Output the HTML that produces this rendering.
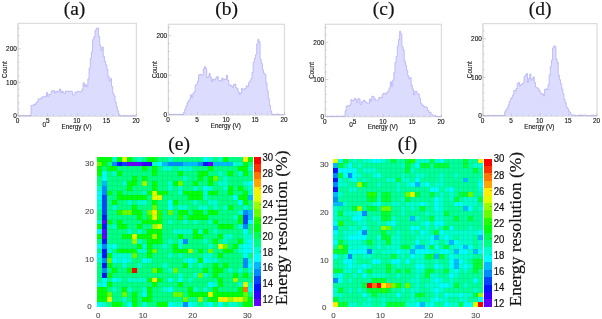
<!DOCTYPE html>
<html lang="en">
<head>
<meta charset="utf-8">
<title>Energy spectra and energy resolution maps</title>
<style>
html,body{margin:0;padding:0;background:#fff;}
body{width:602px;height:319px;overflow:hidden;}
svg{display:block;}
text{font-family:"Liberation Sans",Arial,Helvetica,sans-serif;}
.tk text{font-size:6.45px;fill:#111;stroke:#111;stroke-width:0.12px;}
.tk text.at{font-size:6.3px;}
.ttl{font-family:"Liberation Serif","Times New Roman",serif;font-size:19.5px;fill:#111;stroke:#111;stroke-width:0.18px;}
.er{font-family:"Liberation Serif","Times New Roman",serif;font-size:17.45px;fill:#111;stroke:#111;stroke-width:0.18px;}
.cb text{font-size:10.6px;fill:#111;stroke:#111;stroke-width:0.22px;}
.ax text{font-size:7.9px;fill:#505050;stroke:#505050;stroke-width:0.12px;}
</style>
</head>
<body>
<svg width="602" height="319" viewBox="0 0 602 319">
<defs><filter id="soft" x="-2%" y="-2%" width="104%" height="104%"><feGaussianBlur stdDeviation="0.55"/></filter></defs>
<rect width="602" height="319" fill="#fff"/>
<rect x="18" y="23.4" width="118.4" height="92.6" fill="none" stroke="#dddddd" stroke-width="1.25"/>
<path d="M18 23.4V116H136.4" fill="none" stroke="#cacaca" stroke-width="0.5"/>
<path d="M18 115.7H30.7" stroke="#a9a4f6" stroke-width="0.7" fill="none"/>
<path d="M29.84 116V115.85H31.02V105.45H32.21V105.5H33.39V104.29H34.58V104.94H35.76V102.77H36.94V101.6H38.13V98.85H39.31V99.09H40.5V98.53H41.68V97.03H42.86V96.67H44.05V96.69H45.23V96.15H46.42V92.62H47.6V96.42H48.78V94.21H49.97V94.44H51.15V91.28H52.34V90.58H53.52V90.61H54.7V92.82H55.89V91.24H57.07V91.88H58.26V91.13H59.44V88.99H60.62V92.57H61.81V91.02H62.99V92.8H64.18V93.36H65.36V90.98H66.54V91.32H67.73V91.07H68.91V91.5H70.1V91H71.28V91.49H72.46V94.9H73.65V94.93H74.83V92.37H76.02V92.15H77.2V91.25H78.38V91.56H79.57V91.55H80.75V91.56H81.94V89.25H83.12V82.78H84.3V86.42H85.49V84.56H86.67V86.6H87.86V78.99H89.04V68.3H90.22V58.6H91.41V51.9H92.59V39.66H93.78V37H94.96V30.78H96.14V28.13H97.33V27.99H98.51V36.51H99.7V45.35H100.88V50.33H102.06V46.99H103.25V56.33H104.43V61.32H105.62V64.84H106.8V69.25H107.98V76.34H109.17V80.84H110.35V78.41H111.54V86.42H112.72V93.12H113.9V95.86H115.09V102.09H116.27V106.83H117.46V110.85H118.64V114.23H119.82V115.85H121.01V115.85H122.19V115.85H123.38V115.85H124.56V115.85H125.74V115.85H126.93V115.85H128.11V115.85H129.3V115.85H130.48V115.85H131.66V115.85H132.85V115.1H134.03V115.85H135.22V115.85H136.4V116" fill="#dcdcff" stroke="#a9a4f6" stroke-width="0.65" stroke-linejoin="miter"/>
<path d="M18 116v-2.6M23.92 116v-1.3M29.84 116v-1.3M35.76 116v-1.3M41.68 116v-1.3M47.6 116v-2.6M53.52 116v-1.3M59.44 116v-1.3M65.36 116v-1.3M71.28 116v-1.3M77.2 116v-2.6M83.12 116v-1.3M89.04 116v-1.3M94.96 116v-1.3M100.88 116v-1.3M106.8 116v-2.6M112.72 116v-1.3M118.64 116v-1.3M124.56 116v-1.3M130.48 116v-1.3M136.4 116v-2.6M18 116h3M18 109.28h1.5M18 102.56h1.5M18 95.84h1.5M18 89.12h1.5M18 82.4h3M18 75.68h1.5M18 68.96h1.5M18 62.24h1.5M18 55.52h1.5M18 48.8h3M18 42.08h1.5M18 35.36h1.5M18 28.64h1.5" stroke="#b8b8b8" stroke-width="0.6" fill="none"/>
<g class="tk">
<text x="16.8" y="118.4" text-anchor="end">0</text>
<text x="16.8" y="84.8" text-anchor="end">100</text>
<text x="16.8" y="51.1" text-anchor="end">200</text>
<text x="17.6" y="123.2" text-anchor="middle">0</text>
<text x="47.9" y="123" text-anchor="middle">5</text>
<text x="76.8" y="123.2" text-anchor="middle">10</text>
<text x="106.4" y="123.2" text-anchor="middle">15</text>
<text x="136" y="123.2" text-anchor="middle">20</text>
<text x="44.2" y="126.5" text-anchor="middle">0</text>
<text class="at" x="76.6" y="128.8" text-anchor="middle">Energy (V)</text>
<text class="at" transform="translate(6.7 69.7) rotate(-90)" text-anchor="middle">Count</text>
</g>
<text class="ttl" x="74.5" y="14.6" text-anchor="middle">(a)</text>
<rect x="168.4" y="24.3" width="116.1" height="90.5" fill="none" stroke="#dddddd" stroke-width="1.25"/>
<path d="M168.4 24.3V114.8H284.5" fill="none" stroke="#cacaca" stroke-width="0.5"/>
<path d="M168.4 114.5H183.3" stroke="#a9a4f6" stroke-width="0.7" fill="none"/>
<path d="M182.33 114.8V114.65H183.49V112.57H184.65V109.19H185.81V106.32H186.98V102.75H188.14V101.12H189.3V99.24H190.46V94.75H191.62V97.26H192.78V93.42H193.94V92.01H195.1V85.16H196.26V84.27H197.43V81.13H198.59V74.9H199.75V74.33H200.91V74.94H202.07V75.08H203.23V68.94H204.39V66.73H205.55V68.37H206.71V77.56H207.87V76.73H209.04V73.42H210.2V77.14H211.36V81.5H212.52V79.03H213.68V80.15H214.84V79.28H216V77.01H217.16V76.71H218.32V80.32H219.48V80.47H220.65V81.31H221.81V77.95H222.97V79.85H224.13V79.11H225.29V79.38H226.45V75.28H227.61V80.19H228.77V84.78H229.93V85.23H231.09V86.18H232.25V87.29H233.42V84.6H234.58V84.1H235.74V87.73H236.9V88.6H238.06V91.94H239.22V94.07H240.38V92.91H241.54V88.39H242.7V89.39H243.87V89.08H245.03V88.47H246.19V85.76H247.35V86.59H248.51V82.83H249.67V80.99H250.83V78.52H251.99V72.38H253.15V62.45H254.31V58.41H255.48V54.59H256.64V44.1H257.8V39.33H258.96V41.87H260.12V59.44H261.28V63.67H262.44V69.86H263.6V73.32H264.76V74.39H265.92V82.89H267.08V90.82H268.25V98.8H269.41V105.57H270.57V111.08H271.73V114.65H272.89V114.65H274.05V114.65H275.21V114.65H276.37V113.9H277.53V114.65H278.69V114.65H279.86V114.65H281.02V114.65H282.18V114.65H283.34V114.65H284.5V114.8" fill="#dcdcff" stroke="#a9a4f6" stroke-width="0.65" stroke-linejoin="miter"/>
<path d="M168.4 114.8v-2.6M174.21 114.8v-1.3M180.01 114.8v-1.3M185.81 114.8v-1.3M191.62 114.8v-1.3M197.43 114.8v-2.6M203.23 114.8v-1.3M209.03 114.8v-1.3M214.84 114.8v-1.3M220.65 114.8v-1.3M226.45 114.8v-2.6M232.25 114.8v-1.3M238.06 114.8v-1.3M243.87 114.8v-1.3M249.67 114.8v-1.3M255.47 114.8v-2.6M261.28 114.8v-1.3M267.09 114.8v-1.3M272.89 114.8v-1.3M278.69 114.8v-1.3M284.5 114.8v-2.6M168.4 114.8h3M168.4 106.88h1.5M168.4 98.96h1.5M168.4 91.04h1.5M168.4 83.12h1.5M168.4 75.2h3M168.4 67.28h1.5M168.4 59.36h1.5M168.4 51.44h1.5M168.4 43.52h1.5M168.4 35.6h3M168.4 27.68h1.5" stroke="#b8b8b8" stroke-width="0.6" fill="none"/>
<g class="tk">
<text x="167.2" y="117.2" text-anchor="end">0</text>
<text x="167.2" y="77.6" text-anchor="end">100</text>
<text x="167.2" y="37.9" text-anchor="end">200</text>
<text x="168" y="122" text-anchor="middle">0</text>
<text x="197.03" y="122" text-anchor="middle">5</text>
<text x="226.05" y="122" text-anchor="middle">10</text>
<text x="255.07" y="122" text-anchor="middle">15</text>
<text x="284.1" y="122" text-anchor="middle">20</text>
<text class="at" x="225.85" y="127.6" text-anchor="middle">Energy (V)</text>
<text class="at" transform="translate(157.1 69.55) rotate(-90)" text-anchor="middle">Count</text>
</g>
<text class="ttl" x="226.7" y="14.6" text-anchor="middle">(b)</text>
<rect x="325.3" y="24.3" width="116.1" height="92.3" fill="none" stroke="#dddddd" stroke-width="1.25"/>
<path d="M325.3 24.3V116.6H441.4" fill="none" stroke="#cacaca" stroke-width="0.5"/>
<path d="M325.3 116.3H344.3" stroke="#a9a4f6" stroke-width="0.7" fill="none"/>
<path d="M343.88 116.6V116.45H345.04V110.78H346.2V106.19H347.36V105.78H348.52V106.17H349.68V105.04H350.84V99.68H352V100.52H353.16V100.08H354.32V98.24H355.49V99.55H356.65V102.4H357.81V98.67H358.97V98.99H360.13V104.46H361.29V102.15H362.45V101.06H363.61V100.34H364.77V101.35H365.94V102.71H367.1V103.07H368.26V103.01H369.42V98.93H370.58V101.05H371.74V96.27H372.9V96.4H374.06V98.55H375.22V100.46H376.38V100.33H377.55V99.97H378.71V97.57H379.87V97.23H381.03V97.91H382.19V94.28H383.35V93.27H384.51V93.25H385.67V94.09H386.83V91.96H387.99V90.98H389.15V87.86H390.32V81.65H391.48V86.3H392.64V80.13H393.8V72.72H394.96V62.44H396.12V56.54H397.28V46.21H398.44V39.54H399.6V31.39H400.76V34.03H401.93V46.46H403.09V49.98H404.25V61.15H405.41V65.47H406.57V70.3H407.73V75.78H408.89V78.66H410.05V77.72H411.21V85.41H412.38V88.99H413.54V94.72H414.7V91.31H415.86V91.43H417.02V93.77H418.18V93.99H419.34V98.38H420.5V103H421.66V104.84H422.82V105.67H423.98V106.7H425.15V106.75H426.31V107.59H427.47V110.29H428.63V112.39H429.79V112.09H430.95V114.24H432.11V115.13H433.27V115.25H434.43V115.7H435.59V116.45H436.76V116.45H437.92V116.45H439.08V116.45H440.24V116.45H441.4V116.6" fill="#dcdcff" stroke="#a9a4f6" stroke-width="0.65" stroke-linejoin="miter"/>
<path d="M325.3 116.6v-2.6M331.11 116.6v-1.3M336.91 116.6v-1.3M342.72 116.6v-1.3M348.52 116.6v-1.3M354.32 116.6v-2.6M360.13 116.6v-1.3M365.94 116.6v-1.3M371.74 116.6v-1.3M377.55 116.6v-1.3M383.35 116.6v-2.6M389.15 116.6v-1.3M394.96 116.6v-1.3M400.76 116.6v-1.3M406.57 116.6v-1.3M412.38 116.6v-2.6M418.18 116.6v-1.3M423.98 116.6v-1.3M429.79 116.6v-1.3M435.59 116.6v-1.3M441.4 116.6v-2.6M325.3 116.6h3M325.3 109.18h1.5M325.3 101.76h1.5M325.3 94.34h1.5M325.3 86.92h1.5M325.3 79.5h3M325.3 72.08h1.5M325.3 64.66h1.5M325.3 57.24h1.5M325.3 49.82h1.5M325.3 42.4h3M325.3 34.98h1.5M325.3 27.56h1.5" stroke="#b8b8b8" stroke-width="0.6" fill="none"/>
<g class="tk">
<text x="324.1" y="119" text-anchor="end">0</text>
<text x="324.1" y="81.9" text-anchor="end">100</text>
<text x="324.1" y="44.8" text-anchor="end">200</text>
<text x="324.9" y="123.8" text-anchor="middle">0</text>
<text x="354.62" y="123.6" text-anchor="middle">5</text>
<text x="382.95" y="123.8" text-anchor="middle">10</text>
<text x="411.98" y="123.8" text-anchor="middle">15</text>
<text x="441" y="123.8" text-anchor="middle">20</text>
<text x="350.93" y="127.1" text-anchor="middle">0</text>
<text class="at" x="382.75" y="129.4" text-anchor="middle">Energy (V)</text>
<text class="at" transform="translate(314 70.45) rotate(-90)" text-anchor="middle">Count</text>
</g>
<text class="ttl" x="383.6" y="14.6" text-anchor="middle">(c)</text>
<rect x="483" y="23.6" width="114" height="92.3" fill="none" stroke="#dddddd" stroke-width="1.25"/>
<path d="M483 23.6V115.9H597" fill="none" stroke="#cacaca" stroke-width="0.5"/>
<path d="M483 115.6H503.8" stroke="#a9a4f6" stroke-width="0.7" fill="none"/>
<path d="M503.52 115.9V115.75H504.66V111.71H505.8V109.81H506.94V107.96H508.08V104.95H509.22V101.44H510.36V98.78H511.5V97.58H512.64V94.92H513.78V90.54H514.92V90.97H516.06V88.49H517.2V83.76H518.34V82.43H519.48V85.84H520.62V84.81H521.76V84.06H522.9V82.94H524.04V76.59H525.18V75.29H526.32V73.47H527.46V82.34H528.6V78.5H529.74V74.01H530.88V80.1H532.02V78.87H533.16V76.97H534.3V82.55H535.44V87.06H536.58V87.93H537.72V88.2H538.86V90.33H540V92.68H541.14V94.17H542.28V93.77H543.42V96.14H544.56V89.53H545.7V88.79H546.84V89.55H547.98V84.94H549.12V75H550.26V66.73H551.4V60.07H552.54V48H553.68V45.9H554.82V46.39H555.96V59.17H557.1V62.56H558.24V75.04H559.38V79.71H560.52V83.68H561.66V88.95H562.8V93.75H563.94V99.49H565.08V102.71H566.22V106.97H567.36V108.67H568.5V111.13H569.64V112.68H570.78V114.44H571.92V115.75H573.06V115H574.2V115H575.34V115.75H576.48V115.75H577.62V115.75H578.76V115H579.9V115.75H581.04V115H582.18V115.75H583.32V115H584.46V115H585.6V115.75H586.74V115.75H587.88V115.75H589.02V115.75H590.16V115.75H591.3V115.75H592.44V115H593.58V115.75H594.72V115.75H595.86V115.75H597V115.9" fill="#dcdcff" stroke="#a9a4f6" stroke-width="0.65" stroke-linejoin="miter"/>
<path d="M483 115.9v-2.6M488.7 115.9v-1.3M494.4 115.9v-1.3M500.1 115.9v-1.3M505.8 115.9v-1.3M511.5 115.9v-2.6M517.2 115.9v-1.3M522.9 115.9v-1.3M528.6 115.9v-1.3M534.3 115.9v-1.3M540 115.9v-2.6M545.7 115.9v-1.3M551.4 115.9v-1.3M557.1 115.9v-1.3M562.8 115.9v-1.3M568.5 115.9v-2.6M574.2 115.9v-1.3M579.9 115.9v-1.3M585.6 115.9v-1.3M591.3 115.9v-1.3M597 115.9v-2.6M483 115.9h3M483 108.18h1.5M483 100.46h1.5M483 92.74h1.5M483 85.02h1.5M483 77.3h3M483 69.58h1.5M483 61.86h1.5M483 54.14h1.5M483 46.42h1.5M483 38.7h3M483 30.98h1.5" stroke="#b8b8b8" stroke-width="0.6" fill="none"/>
<g class="tk">
<text x="481.8" y="118.3" text-anchor="end">0</text>
<text x="481.8" y="79.7" text-anchor="end">100</text>
<text x="481.8" y="41.2" text-anchor="end">200</text>
<text x="482.6" y="123.1" text-anchor="middle">0</text>
<text x="511.1" y="123.1" text-anchor="middle">5</text>
<text x="539.6" y="123.1" text-anchor="middle">10</text>
<text x="568.1" y="123.1" text-anchor="middle">15</text>
<text x="596.6" y="123.1" text-anchor="middle">20</text>
<text class="at" x="539.4" y="128.7" text-anchor="middle">Energy (V)</text>
<text class="at" transform="translate(471.7 69.75) rotate(-90)" text-anchor="middle">Count</text>
</g>
<text class="ttl" x="540.1" y="14.6" text-anchor="middle">(d)</text>
<g filter="url(#soft)">
<g shape-rendering="crispEdges">
<rect x="97.2" y="156.8" width="15.12" height="4.88" fill="#00ff0e"/>
<rect x="112.27" y="156.8" width="5.07" height="4.88" fill="#00ffcc"/>
<rect x="117.29" y="156.8" width="5.07" height="4.88" fill="#00ff0e"/>
<rect x="122.31" y="156.8" width="5.07" height="4.88" fill="#e0ff00"/>
<rect x="127.34" y="156.8" width="5.07" height="4.88" fill="#00ff0e"/>
<rect x="132.36" y="156.8" width="5.07" height="4.88" fill="#00ff85"/>
<rect x="137.38" y="156.8" width="5.07" height="4.88" fill="#00ffcc"/>
<rect x="142.4" y="156.8" width="5.07" height="4.88" fill="#00ff85"/>
<rect x="147.43" y="156.8" width="10.1" height="4.88" fill="#00ff0e"/>
<rect x="157.47" y="156.8" width="10.1" height="4.88" fill="#00ff85"/>
<rect x="167.52" y="156.8" width="5.07" height="4.88" fill="#00ffcc"/>
<rect x="172.54" y="156.8" width="30.19" height="4.88" fill="#00ff85"/>
<rect x="202.67" y="156.8" width="5.07" height="4.88" fill="#00fffc"/>
<rect x="207.7" y="156.8" width="5.07" height="4.88" fill="#00ffcc"/>
<rect x="212.72" y="156.8" width="5.07" height="4.88" fill="#00ff85"/>
<rect x="217.74" y="156.8" width="5.07" height="4.88" fill="#00ffcc"/>
<rect x="222.76" y="156.8" width="5.07" height="4.88" fill="#00ff0e"/>
<rect x="227.79" y="156.8" width="15.12" height="4.88" fill="#00ff85"/>
<rect x="242.85" y="156.8" width="5.07" height="4.88" fill="#ffee00"/>
<rect x="247.88" y="156.8" width="5.07" height="4.88" fill="#00ff0e"/>
<rect x="97.2" y="161.63" width="5.07" height="4.88" fill="#69ff00"/>
<rect x="102.22" y="161.63" width="5.07" height="4.88" fill="#00ff0e"/>
<rect x="107.25" y="161.63" width="5.07" height="4.88" fill="#00ff85"/>
<rect x="112.27" y="161.63" width="5.07" height="4.88" fill="#008bff"/>
<rect x="117.29" y="161.63" width="5.07" height="4.88" fill="#0014ff"/>
<rect x="122.31" y="161.63" width="5.07" height="4.88" fill="#0044ff"/>
<rect x="127.34" y="161.63" width="15.12" height="4.88" fill="#6300ff"/>
<rect x="142.4" y="161.63" width="10.1" height="4.88" fill="#3300ff"/>
<rect x="152.45" y="161.63" width="5.07" height="4.88" fill="#00ffcc"/>
<rect x="157.47" y="161.63" width="5.07" height="4.88" fill="#00fffc"/>
<rect x="162.49" y="161.63" width="5.07" height="4.88" fill="#00bbff"/>
<rect x="167.52" y="161.63" width="15.12" height="4.88" fill="#008bff"/>
<rect x="182.58" y="161.63" width="15.12" height="4.88" fill="#00bbff"/>
<rect x="197.65" y="161.63" width="5.07" height="4.88" fill="#008bff"/>
<rect x="202.67" y="161.63" width="5.07" height="4.88" fill="#0014ff"/>
<rect x="207.7" y="161.63" width="5.07" height="4.88" fill="#6300ff"/>
<rect x="212.72" y="161.63" width="20.14" height="4.88" fill="#00bbff"/>
<rect x="232.81" y="161.63" width="10.1" height="4.88" fill="#00ffcc"/>
<rect x="242.85" y="161.63" width="5.07" height="4.88" fill="#00ff0e"/>
<rect x="247.88" y="161.63" width="5.07" height="4.88" fill="#00ff85"/>
<rect x="97.2" y="166.46" width="5.07" height="4.88" fill="#00ff0e"/>
<rect x="102.22" y="166.46" width="5.07" height="4.88" fill="#00ff85"/>
<rect x="107.25" y="166.46" width="10.1" height="4.88" fill="#00ff0e"/>
<rect x="117.29" y="166.46" width="25.16" height="4.88" fill="#00ff85"/>
<rect x="142.4" y="166.46" width="5.07" height="4.88" fill="#00ff0e"/>
<rect x="147.43" y="166.46" width="5.07" height="4.88" fill="#00ff85"/>
<rect x="152.45" y="166.46" width="5.07" height="4.88" fill="#00ff0e"/>
<rect x="157.47" y="166.46" width="5.07" height="4.88" fill="#00ff85"/>
<rect x="162.49" y="166.46" width="10.1" height="4.88" fill="#00ffcc"/>
<rect x="172.54" y="166.46" width="5.07" height="4.88" fill="#00ff85"/>
<rect x="177.56" y="166.46" width="15.12" height="4.88" fill="#00ffcc"/>
<rect x="192.63" y="166.46" width="15.12" height="4.88" fill="#00ff85"/>
<rect x="207.7" y="166.46" width="5.07" height="4.88" fill="#00ff0e"/>
<rect x="212.72" y="166.46" width="25.16" height="4.88" fill="#00ff85"/>
<rect x="237.83" y="166.46" width="10.1" height="4.88" fill="#00ff0e"/>
<rect x="247.88" y="166.46" width="5.07" height="4.88" fill="#00ffcc"/>
<rect x="97.2" y="171.29" width="5.07" height="4.88" fill="#00ff0e"/>
<rect x="102.22" y="171.29" width="5.07" height="4.88" fill="#00fffc"/>
<rect x="107.25" y="171.29" width="5.07" height="4.88" fill="#00ff85"/>
<rect x="112.27" y="171.29" width="5.07" height="4.88" fill="#00ffcc"/>
<rect x="117.29" y="171.29" width="5.07" height="4.88" fill="#00ff0e"/>
<rect x="122.31" y="171.29" width="30.19" height="4.88" fill="#00ff85"/>
<rect x="152.45" y="171.29" width="5.07" height="4.88" fill="#00ff0e"/>
<rect x="157.47" y="171.29" width="20.14" height="4.88" fill="#00ff85"/>
<rect x="177.56" y="171.29" width="5.07" height="4.88" fill="#00ff0e"/>
<rect x="182.58" y="171.29" width="15.12" height="4.88" fill="#00ff85"/>
<rect x="197.65" y="171.29" width="10.1" height="4.88" fill="#00ff0e"/>
<rect x="207.7" y="171.29" width="10.1" height="4.88" fill="#00ff85"/>
<rect x="217.74" y="171.29" width="5.07" height="4.88" fill="#00ffcc"/>
<rect x="222.76" y="171.29" width="5.07" height="4.88" fill="#00ff85"/>
<rect x="227.79" y="171.29" width="5.07" height="4.88" fill="#00ff0e"/>
<rect x="232.81" y="171.29" width="5.07" height="4.88" fill="#00ff85"/>
<rect x="237.83" y="171.29" width="5.07" height="4.88" fill="#00ffcc"/>
<rect x="242.85" y="171.29" width="5.07" height="4.88" fill="#00ff0e"/>
<rect x="247.88" y="171.29" width="5.07" height="4.88" fill="#00ff85"/>
<rect x="97.2" y="176.12" width="5.07" height="4.88" fill="#00ff85"/>
<rect x="102.22" y="176.12" width="5.07" height="4.88" fill="#00fffc"/>
<rect x="107.25" y="176.12" width="25.16" height="4.88" fill="#00ff85"/>
<rect x="132.36" y="176.12" width="5.07" height="4.88" fill="#00ff0e"/>
<rect x="137.38" y="176.12" width="5.07" height="4.88" fill="#00ff85"/>
<rect x="142.4" y="176.12" width="5.07" height="4.88" fill="#00ff0e"/>
<rect x="147.43" y="176.12" width="35.21" height="4.88" fill="#00ff85"/>
<rect x="182.58" y="176.12" width="5.07" height="4.88" fill="#00ffcc"/>
<rect x="187.61" y="176.12" width="10.1" height="4.88" fill="#00ff85"/>
<rect x="197.65" y="176.12" width="5.07" height="4.88" fill="#00ff0e"/>
<rect x="202.67" y="176.12" width="5.07" height="4.88" fill="#00ff85"/>
<rect x="207.7" y="176.12" width="5.07" height="4.88" fill="#00ff0e"/>
<rect x="212.72" y="176.12" width="5.07" height="4.88" fill="#69ff00"/>
<rect x="217.74" y="176.12" width="5.07" height="4.88" fill="#00ff85"/>
<rect x="222.76" y="176.12" width="5.07" height="4.88" fill="#00ffcc"/>
<rect x="227.79" y="176.12" width="25.16" height="4.88" fill="#00ff85"/>
<rect x="97.2" y="180.95" width="5.07" height="4.88" fill="#00ff85"/>
<rect x="102.22" y="180.95" width="5.07" height="4.88" fill="#00bbff"/>
<rect x="107.25" y="180.95" width="15.12" height="4.88" fill="#00ff85"/>
<rect x="122.31" y="180.95" width="5.07" height="4.88" fill="#00ffcc"/>
<rect x="127.34" y="180.95" width="10.1" height="4.88" fill="#00ff0e"/>
<rect x="137.38" y="180.95" width="5.07" height="4.88" fill="#00ff85"/>
<rect x="142.4" y="180.95" width="5.07" height="4.88" fill="#99ff00"/>
<rect x="147.43" y="180.95" width="5.07" height="4.88" fill="#00ff85"/>
<rect x="152.45" y="180.95" width="5.07" height="4.88" fill="#00ff0e"/>
<rect x="157.47" y="180.95" width="10.1" height="4.88" fill="#00ff85"/>
<rect x="167.52" y="180.95" width="5.07" height="4.88" fill="#00ffcc"/>
<rect x="172.54" y="180.95" width="5.07" height="4.88" fill="#00ff0e"/>
<rect x="177.56" y="180.95" width="5.07" height="4.88" fill="#69ff00"/>
<rect x="182.58" y="180.95" width="10.1" height="4.88" fill="#00ff85"/>
<rect x="192.63" y="180.95" width="5.07" height="4.88" fill="#00ff0e"/>
<rect x="197.65" y="180.95" width="10.1" height="4.88" fill="#00ff85"/>
<rect x="207.7" y="180.95" width="5.07" height="4.88" fill="#00ff0e"/>
<rect x="212.72" y="180.95" width="5.07" height="4.88" fill="#00ff85"/>
<rect x="217.74" y="180.95" width="10.1" height="4.88" fill="#00ffcc"/>
<rect x="227.79" y="180.95" width="15.12" height="4.88" fill="#00ff85"/>
<rect x="242.85" y="180.95" width="5.07" height="4.88" fill="#00ffcc"/>
<rect x="247.88" y="180.95" width="5.07" height="4.88" fill="#00fffc"/>
<rect x="97.2" y="185.77" width="5.07" height="4.88" fill="#00ffcc"/>
<rect x="102.22" y="185.77" width="5.07" height="4.88" fill="#008bff"/>
<rect x="107.25" y="185.77" width="20.14" height="4.88" fill="#00ff85"/>
<rect x="127.34" y="185.77" width="5.07" height="4.88" fill="#00ff0e"/>
<rect x="132.36" y="185.77" width="20.14" height="4.88" fill="#00ff85"/>
<rect x="152.45" y="185.77" width="5.07" height="4.88" fill="#00ff0e"/>
<rect x="157.47" y="185.77" width="10.1" height="4.88" fill="#00ff85"/>
<rect x="167.52" y="185.77" width="5.07" height="4.88" fill="#00ffcc"/>
<rect x="172.54" y="185.77" width="5.07" height="4.88" fill="#00ff85"/>
<rect x="177.56" y="185.77" width="5.07" height="4.88" fill="#00ffcc"/>
<rect x="182.58" y="185.77" width="10.1" height="4.88" fill="#00ff85"/>
<rect x="192.63" y="185.77" width="5.07" height="4.88" fill="#00ffcc"/>
<rect x="197.65" y="185.77" width="5.07" height="4.88" fill="#00ff85"/>
<rect x="202.67" y="185.77" width="5.07" height="4.88" fill="#00fffc"/>
<rect x="207.7" y="185.77" width="5.07" height="4.88" fill="#00ffcc"/>
<rect x="212.72" y="185.77" width="10.1" height="4.88" fill="#00ff85"/>
<rect x="222.76" y="185.77" width="5.07" height="4.88" fill="#00ffcc"/>
<rect x="227.79" y="185.77" width="5.07" height="4.88" fill="#00ff0e"/>
<rect x="232.81" y="185.77" width="5.07" height="4.88" fill="#00ff85"/>
<rect x="237.83" y="185.77" width="5.07" height="4.88" fill="#00ff0e"/>
<rect x="242.85" y="185.77" width="5.07" height="4.88" fill="#00ff85"/>
<rect x="247.88" y="185.77" width="5.07" height="4.88" fill="#00ffcc"/>
<rect x="97.2" y="190.6" width="5.07" height="4.88" fill="#00fffc"/>
<rect x="102.22" y="190.6" width="5.07" height="4.88" fill="#008bff"/>
<rect x="107.25" y="190.6" width="5.07" height="4.88" fill="#00ff0e"/>
<rect x="112.27" y="190.6" width="5.07" height="4.88" fill="#00ff85"/>
<rect x="117.29" y="190.6" width="5.07" height="4.88" fill="#00ff0e"/>
<rect x="122.31" y="190.6" width="20.14" height="4.88" fill="#00ff85"/>
<rect x="142.4" y="190.6" width="5.07" height="4.88" fill="#00ffcc"/>
<rect x="147.43" y="190.6" width="5.07" height="4.88" fill="#00ff0e"/>
<rect x="152.45" y="190.6" width="5.07" height="4.88" fill="#e0ff00"/>
<rect x="157.47" y="190.6" width="10.1" height="4.88" fill="#00ff0e"/>
<rect x="167.52" y="190.6" width="10.1" height="4.88" fill="#00ff85"/>
<rect x="177.56" y="190.6" width="5.07" height="4.88" fill="#00ffcc"/>
<rect x="182.58" y="190.6" width="20.14" height="4.88" fill="#00ff0e"/>
<rect x="202.67" y="190.6" width="5.07" height="4.88" fill="#00ffcc"/>
<rect x="207.7" y="190.6" width="10.1" height="4.88" fill="#00ff0e"/>
<rect x="217.74" y="190.6" width="10.1" height="4.88" fill="#00ff85"/>
<rect x="227.79" y="190.6" width="5.07" height="4.88" fill="#00ff0e"/>
<rect x="232.81" y="190.6" width="10.1" height="4.88" fill="#00ff85"/>
<rect x="242.85" y="190.6" width="5.07" height="4.88" fill="#00ff0e"/>
<rect x="247.88" y="190.6" width="5.07" height="4.88" fill="#00ffcc"/>
<rect x="97.2" y="195.43" width="5.07" height="4.88" fill="#00fffc"/>
<rect x="102.22" y="195.43" width="5.07" height="4.88" fill="#0044ff"/>
<rect x="107.25" y="195.43" width="10.1" height="4.88" fill="#00ff85"/>
<rect x="117.29" y="195.43" width="30.19" height="4.88" fill="#00ff0e"/>
<rect x="147.43" y="195.43" width="5.07" height="4.88" fill="#00ff85"/>
<rect x="152.45" y="195.43" width="10.1" height="4.88" fill="#e0ff00"/>
<rect x="162.49" y="195.43" width="25.16" height="4.88" fill="#00ff85"/>
<rect x="187.61" y="195.43" width="15.12" height="4.88" fill="#00ff0e"/>
<rect x="202.67" y="195.43" width="5.07" height="4.88" fill="#00ffcc"/>
<rect x="207.7" y="195.43" width="25.16" height="4.88" fill="#00ff85"/>
<rect x="232.81" y="195.43" width="5.07" height="4.88" fill="#00fffc"/>
<rect x="237.83" y="195.43" width="10.1" height="4.88" fill="#00ff0e"/>
<rect x="247.88" y="195.43" width="5.07" height="4.88" fill="#00bbff"/>
<rect x="97.2" y="200.26" width="5.07" height="4.88" fill="#00ffcc"/>
<rect x="102.22" y="200.26" width="5.07" height="4.88" fill="#0044ff"/>
<rect x="107.25" y="200.26" width="5.07" height="4.88" fill="#00ff85"/>
<rect x="112.27" y="200.26" width="5.07" height="4.88" fill="#00ff0e"/>
<rect x="117.29" y="200.26" width="10.1" height="4.88" fill="#00ff85"/>
<rect x="127.34" y="200.26" width="5.07" height="4.88" fill="#00ffcc"/>
<rect x="132.36" y="200.26" width="5.07" height="4.88" fill="#00ff85"/>
<rect x="137.38" y="200.26" width="10.1" height="4.88" fill="#00ffcc"/>
<rect x="147.43" y="200.26" width="5.07" height="4.88" fill="#00ff85"/>
<rect x="152.45" y="200.26" width="5.07" height="4.88" fill="#00ff0e"/>
<rect x="157.47" y="200.26" width="10.1" height="4.88" fill="#00ff85"/>
<rect x="167.52" y="200.26" width="5.07" height="4.88" fill="#00fffc"/>
<rect x="172.54" y="200.26" width="5.07" height="4.88" fill="#00ff0e"/>
<rect x="177.56" y="200.26" width="15.12" height="4.88" fill="#00ff85"/>
<rect x="192.63" y="200.26" width="5.07" height="4.88" fill="#00ffcc"/>
<rect x="197.65" y="200.26" width="10.1" height="4.88" fill="#00ff85"/>
<rect x="207.7" y="200.26" width="10.1" height="4.88" fill="#00ffcc"/>
<rect x="217.74" y="200.26" width="20.14" height="4.88" fill="#00ff85"/>
<rect x="237.83" y="200.26" width="5.07" height="4.88" fill="#00fffc"/>
<rect x="242.85" y="200.26" width="5.07" height="4.88" fill="#00ff0e"/>
<rect x="247.88" y="200.26" width="5.07" height="4.88" fill="#00ff85"/>
<rect x="97.2" y="205.09" width="5.07" height="4.88" fill="#00ffcc"/>
<rect x="102.22" y="205.09" width="5.07" height="4.88" fill="#0044ff"/>
<rect x="107.25" y="205.09" width="5.07" height="4.88" fill="#00ff85"/>
<rect x="112.27" y="205.09" width="5.07" height="4.88" fill="#00ffcc"/>
<rect x="117.29" y="205.09" width="15.12" height="4.88" fill="#00ff85"/>
<rect x="132.36" y="205.09" width="5.07" height="4.88" fill="#00ff0e"/>
<rect x="137.38" y="205.09" width="15.12" height="4.88" fill="#00ff85"/>
<rect x="152.45" y="205.09" width="5.07" height="4.88" fill="#69ff00"/>
<rect x="157.47" y="205.09" width="10.1" height="4.88" fill="#00ff85"/>
<rect x="167.52" y="205.09" width="5.07" height="4.88" fill="#00fffc"/>
<rect x="172.54" y="205.09" width="5.07" height="4.88" fill="#00ff85"/>
<rect x="177.56" y="205.09" width="10.1" height="4.88" fill="#00ffcc"/>
<rect x="187.61" y="205.09" width="10.1" height="4.88" fill="#00ff85"/>
<rect x="197.65" y="205.09" width="10.1" height="4.88" fill="#00ffcc"/>
<rect x="207.7" y="205.09" width="5.07" height="4.88" fill="#00ff85"/>
<rect x="212.72" y="205.09" width="5.07" height="4.88" fill="#00ffcc"/>
<rect x="217.74" y="205.09" width="5.07" height="4.88" fill="#00ff85"/>
<rect x="222.76" y="205.09" width="5.07" height="4.88" fill="#00ffcc"/>
<rect x="227.79" y="205.09" width="5.07" height="4.88" fill="#00ff0e"/>
<rect x="232.81" y="205.09" width="10.1" height="4.88" fill="#00ff85"/>
<rect x="242.85" y="205.09" width="5.07" height="4.88" fill="#00ffcc"/>
<rect x="247.88" y="205.09" width="5.07" height="4.88" fill="#00ff85"/>
<rect x="97.2" y="209.92" width="5.07" height="4.88" fill="#00ff85"/>
<rect x="102.22" y="209.92" width="5.07" height="4.88" fill="#0044ff"/>
<rect x="107.25" y="209.92" width="10.1" height="4.88" fill="#00ff85"/>
<rect x="117.29" y="209.92" width="5.07" height="4.88" fill="#22ff00"/>
<rect x="122.31" y="209.92" width="10.1" height="4.88" fill="#69ff00"/>
<rect x="132.36" y="209.92" width="10.1" height="4.88" fill="#00ff0e"/>
<rect x="142.4" y="209.92" width="5.07" height="4.88" fill="#00ff85"/>
<rect x="147.43" y="209.92" width="5.07" height="4.88" fill="#69ff00"/>
<rect x="152.45" y="209.92" width="5.07" height="4.88" fill="#ffee00"/>
<rect x="157.47" y="209.92" width="5.07" height="4.88" fill="#22ff00"/>
<rect x="162.49" y="209.92" width="5.07" height="4.88" fill="#00ff85"/>
<rect x="167.52" y="209.92" width="5.07" height="4.88" fill="#69ff00"/>
<rect x="172.54" y="209.92" width="5.07" height="4.88" fill="#00ff85"/>
<rect x="177.56" y="209.92" width="10.1" height="4.88" fill="#00ff0e"/>
<rect x="187.61" y="209.92" width="5.07" height="4.88" fill="#00ff85"/>
<rect x="192.63" y="209.92" width="10.1" height="4.88" fill="#00ff0e"/>
<rect x="202.67" y="209.92" width="5.07" height="4.88" fill="#00ff85"/>
<rect x="207.7" y="209.92" width="10.1" height="4.88" fill="#00ff0e"/>
<rect x="217.74" y="209.92" width="20.14" height="4.88" fill="#00ff85"/>
<rect x="237.83" y="209.92" width="5.07" height="4.88" fill="#00ffcc"/>
<rect x="242.85" y="209.92" width="5.07" height="4.88" fill="#008bff"/>
<rect x="247.88" y="209.92" width="5.07" height="4.88" fill="#00bbff"/>
<rect x="97.2" y="214.75" width="5.07" height="4.88" fill="#00ff85"/>
<rect x="102.22" y="214.75" width="5.07" height="4.88" fill="#0014ff"/>
<rect x="107.25" y="214.75" width="30.19" height="4.88" fill="#00ff85"/>
<rect x="137.38" y="214.75" width="5.07" height="4.88" fill="#00ff0e"/>
<rect x="142.4" y="214.75" width="5.07" height="4.88" fill="#00ff85"/>
<rect x="147.43" y="214.75" width="5.07" height="4.88" fill="#22ff00"/>
<rect x="152.45" y="214.75" width="5.07" height="4.88" fill="#e0ff00"/>
<rect x="157.47" y="214.75" width="5.07" height="4.88" fill="#22ff00"/>
<rect x="162.49" y="214.75" width="15.12" height="4.88" fill="#00ff85"/>
<rect x="177.56" y="214.75" width="5.07" height="4.88" fill="#22ff00"/>
<rect x="182.58" y="214.75" width="5.07" height="4.88" fill="#00ff85"/>
<rect x="187.61" y="214.75" width="20.14" height="4.88" fill="#00ff0e"/>
<rect x="207.7" y="214.75" width="25.16" height="4.88" fill="#00ff85"/>
<rect x="232.81" y="214.75" width="5.07" height="4.88" fill="#00ffcc"/>
<rect x="237.83" y="214.75" width="5.07" height="4.88" fill="#00ff0e"/>
<rect x="242.85" y="214.75" width="5.07" height="4.88" fill="#0044ff"/>
<rect x="247.88" y="214.75" width="5.07" height="4.88" fill="#00bbff"/>
<rect x="97.2" y="219.58" width="5.07" height="4.88" fill="#00ffcc"/>
<rect x="102.22" y="219.58" width="5.07" height="4.88" fill="#6300ff"/>
<rect x="107.25" y="219.58" width="5.07" height="4.88" fill="#00ff0e"/>
<rect x="112.27" y="219.58" width="5.07" height="4.88" fill="#00ff85"/>
<rect x="117.29" y="219.58" width="5.07" height="4.88" fill="#00ff0e"/>
<rect x="122.31" y="219.58" width="20.14" height="4.88" fill="#00ff85"/>
<rect x="142.4" y="219.58" width="20.14" height="4.88" fill="#00ff0e"/>
<rect x="162.49" y="219.58" width="5.07" height="4.88" fill="#00ff85"/>
<rect x="167.52" y="219.58" width="5.07" height="4.88" fill="#00ffcc"/>
<rect x="172.54" y="219.58" width="10.1" height="4.88" fill="#00ff85"/>
<rect x="182.58" y="219.58" width="5.07" height="4.88" fill="#00ffcc"/>
<rect x="187.61" y="219.58" width="5.07" height="4.88" fill="#00ff85"/>
<rect x="192.63" y="219.58" width="5.07" height="4.88" fill="#00ffcc"/>
<rect x="197.65" y="219.58" width="10.1" height="4.88" fill="#00ff85"/>
<rect x="207.7" y="219.58" width="5.07" height="4.88" fill="#00ffcc"/>
<rect x="212.72" y="219.58" width="5.07" height="4.88" fill="#00ff0e"/>
<rect x="217.74" y="219.58" width="20.14" height="4.88" fill="#00ff85"/>
<rect x="237.83" y="219.58" width="5.07" height="4.88" fill="#00ff0e"/>
<rect x="242.85" y="219.58" width="5.07" height="4.88" fill="#0044ff"/>
<rect x="247.88" y="219.58" width="5.07" height="4.88" fill="#00fffc"/>
<rect x="97.2" y="224.41" width="5.07" height="4.88" fill="#00ff0e"/>
<rect x="102.22" y="224.41" width="5.07" height="4.88" fill="#0014ff"/>
<rect x="107.25" y="224.41" width="5.07" height="4.88" fill="#00ff85"/>
<rect x="112.27" y="224.41" width="5.07" height="4.88" fill="#00ffcc"/>
<rect x="117.29" y="224.41" width="10.1" height="4.88" fill="#00ff0e"/>
<rect x="127.34" y="224.41" width="10.1" height="4.88" fill="#00ff85"/>
<rect x="137.38" y="224.41" width="5.07" height="4.88" fill="#00ff0e"/>
<rect x="142.4" y="224.41" width="10.1" height="4.88" fill="#00ff85"/>
<rect x="152.45" y="224.41" width="5.07" height="4.88" fill="#99ff00"/>
<rect x="157.47" y="224.41" width="5.07" height="4.88" fill="#e0ff00"/>
<rect x="162.49" y="224.41" width="55.3" height="4.88" fill="#00ff85"/>
<rect x="217.74" y="224.41" width="15.12" height="4.88" fill="#00ff0e"/>
<rect x="232.81" y="224.41" width="5.07" height="4.88" fill="#00ff85"/>
<rect x="237.83" y="224.41" width="5.07" height="4.88" fill="#00ffcc"/>
<rect x="242.85" y="224.41" width="5.07" height="4.88" fill="#008bff"/>
<rect x="247.88" y="224.41" width="5.07" height="4.88" fill="#00ff85"/>
<rect x="97.2" y="229.24" width="5.07" height="4.88" fill="#00fffc"/>
<rect x="102.22" y="229.24" width="5.07" height="4.88" fill="#6300ff"/>
<rect x="107.25" y="229.24" width="20.14" height="4.88" fill="#00ff85"/>
<rect x="127.34" y="229.24" width="5.07" height="4.88" fill="#00ffcc"/>
<rect x="132.36" y="229.24" width="5.07" height="4.88" fill="#00ff85"/>
<rect x="137.38" y="229.24" width="5.07" height="4.88" fill="#00ffcc"/>
<rect x="142.4" y="229.24" width="5.07" height="4.88" fill="#00ff85"/>
<rect x="147.43" y="229.24" width="15.12" height="4.88" fill="#00ff0e"/>
<rect x="162.49" y="229.24" width="10.1" height="4.88" fill="#00ff85"/>
<rect x="172.54" y="229.24" width="20.14" height="4.88" fill="#00ffcc"/>
<rect x="192.63" y="229.24" width="5.07" height="4.88" fill="#00ff0e"/>
<rect x="197.65" y="229.24" width="5.07" height="4.88" fill="#00ffcc"/>
<rect x="202.67" y="229.24" width="5.07" height="4.88" fill="#00ff0e"/>
<rect x="207.7" y="229.24" width="5.07" height="4.88" fill="#00ff85"/>
<rect x="212.72" y="229.24" width="5.07" height="4.88" fill="#00ffcc"/>
<rect x="217.74" y="229.24" width="25.16" height="4.88" fill="#00ff85"/>
<rect x="242.85" y="229.24" width="5.07" height="4.88" fill="#00fffc"/>
<rect x="247.88" y="229.24" width="5.07" height="4.88" fill="#00ff85"/>
<rect x="97.2" y="234.06" width="5.07" height="4.88" fill="#00ff0e"/>
<rect x="102.22" y="234.06" width="5.07" height="4.88" fill="#6300ff"/>
<rect x="107.25" y="234.06" width="15.12" height="4.88" fill="#00ff85"/>
<rect x="122.31" y="234.06" width="10.1" height="4.88" fill="#00ff0e"/>
<rect x="132.36" y="234.06" width="5.07" height="4.88" fill="#e0ff00"/>
<rect x="137.38" y="234.06" width="15.12" height="4.88" fill="#00ff0e"/>
<rect x="152.45" y="234.06" width="5.07" height="4.88" fill="#99ff00"/>
<rect x="157.47" y="234.06" width="5.07" height="4.88" fill="#00ff0e"/>
<rect x="162.49" y="234.06" width="15.12" height="4.88" fill="#00ff85"/>
<rect x="177.56" y="234.06" width="5.07" height="4.88" fill="#00ff0e"/>
<rect x="182.58" y="234.06" width="10.1" height="4.88" fill="#00ff85"/>
<rect x="192.63" y="234.06" width="10.1" height="4.88" fill="#00ff0e"/>
<rect x="202.67" y="234.06" width="15.12" height="4.88" fill="#00ff85"/>
<rect x="217.74" y="234.06" width="5.07" height="4.88" fill="#00ff0e"/>
<rect x="222.76" y="234.06" width="10.1" height="4.88" fill="#00ffcc"/>
<rect x="232.81" y="234.06" width="10.1" height="4.88" fill="#00ff85"/>
<rect x="242.85" y="234.06" width="10.1" height="4.88" fill="#00ffcc"/>
<rect x="97.2" y="238.89" width="5.07" height="4.88" fill="#00ff85"/>
<rect x="102.22" y="238.89" width="5.07" height="4.88" fill="#0014ff"/>
<rect x="107.25" y="238.89" width="25.16" height="4.88" fill="#00ff85"/>
<rect x="132.36" y="238.89" width="5.07" height="4.88" fill="#99ff00"/>
<rect x="137.38" y="238.89" width="5.07" height="4.88" fill="#00ffcc"/>
<rect x="142.4" y="238.89" width="5.07" height="4.88" fill="#00ff85"/>
<rect x="147.43" y="238.89" width="15.12" height="4.88" fill="#00ff0e"/>
<rect x="162.49" y="238.89" width="5.07" height="4.88" fill="#00ff85"/>
<rect x="167.52" y="238.89" width="5.07" height="4.88" fill="#00ffcc"/>
<rect x="172.54" y="238.89" width="5.07" height="4.88" fill="#00ff85"/>
<rect x="177.56" y="238.89" width="5.07" height="4.88" fill="#00ffcc"/>
<rect x="182.58" y="238.89" width="5.07" height="4.88" fill="#008bff"/>
<rect x="187.61" y="238.89" width="15.12" height="4.88" fill="#00ff85"/>
<rect x="202.67" y="238.89" width="5.07" height="4.88" fill="#00ffcc"/>
<rect x="207.7" y="238.89" width="5.07" height="4.88" fill="#00ff85"/>
<rect x="212.72" y="238.89" width="5.07" height="4.88" fill="#00ff0e"/>
<rect x="217.74" y="238.89" width="5.07" height="4.88" fill="#00ff85"/>
<rect x="222.76" y="238.89" width="5.07" height="4.88" fill="#00ffcc"/>
<rect x="227.79" y="238.89" width="10.1" height="4.88" fill="#00ff85"/>
<rect x="237.83" y="238.89" width="5.07" height="4.88" fill="#00ff0e"/>
<rect x="242.85" y="238.89" width="5.07" height="4.88" fill="#00ffcc"/>
<rect x="247.88" y="238.89" width="5.07" height="4.88" fill="#00fffc"/>
<rect x="97.2" y="243.72" width="5.07" height="4.88" fill="#00fffc"/>
<rect x="102.22" y="243.72" width="5.07" height="4.88" fill="#008bff"/>
<rect x="107.25" y="243.72" width="5.07" height="4.88" fill="#00ffcc"/>
<rect x="112.27" y="243.72" width="5.07" height="4.88" fill="#00fffc"/>
<rect x="117.29" y="243.72" width="20.14" height="4.88" fill="#00ff85"/>
<rect x="137.38" y="243.72" width="5.07" height="4.88" fill="#00ff0e"/>
<rect x="142.4" y="243.72" width="5.07" height="4.88" fill="#00ffcc"/>
<rect x="147.43" y="243.72" width="5.07" height="4.88" fill="#00ff0e"/>
<rect x="152.45" y="243.72" width="10.1" height="4.88" fill="#00ff85"/>
<rect x="162.49" y="243.72" width="5.07" height="4.88" fill="#00ffcc"/>
<rect x="167.52" y="243.72" width="5.07" height="4.88" fill="#00ff85"/>
<rect x="172.54" y="243.72" width="5.07" height="4.88" fill="#00ff0e"/>
<rect x="177.56" y="243.72" width="5.07" height="4.88" fill="#00ffcc"/>
<rect x="182.58" y="243.72" width="25.16" height="4.88" fill="#00ff85"/>
<rect x="207.7" y="243.72" width="5.07" height="4.88" fill="#00ffcc"/>
<rect x="212.72" y="243.72" width="5.07" height="4.88" fill="#00ff85"/>
<rect x="217.74" y="243.72" width="5.07" height="4.88" fill="#e0ff00"/>
<rect x="222.76" y="243.72" width="5.07" height="4.88" fill="#69ff00"/>
<rect x="227.79" y="243.72" width="5.07" height="4.88" fill="#00ff85"/>
<rect x="232.81" y="243.72" width="5.07" height="4.88" fill="#00ff0e"/>
<rect x="237.83" y="243.72" width="5.07" height="4.88" fill="#00ffcc"/>
<rect x="242.85" y="243.72" width="10.1" height="4.88" fill="#00fffc"/>
<rect x="97.2" y="248.55" width="5.07" height="4.88" fill="#00ff85"/>
<rect x="102.22" y="248.55" width="5.07" height="4.88" fill="#0014ff"/>
<rect x="107.25" y="248.55" width="5.07" height="4.88" fill="#00ffcc"/>
<rect x="112.27" y="248.55" width="5.07" height="4.88" fill="#00ff85"/>
<rect x="117.29" y="248.55" width="20.14" height="4.88" fill="#00ff0e"/>
<rect x="137.38" y="248.55" width="10.1" height="4.88" fill="#00ffcc"/>
<rect x="147.43" y="248.55" width="5.07" height="4.88" fill="#00ff0e"/>
<rect x="152.45" y="248.55" width="5.07" height="4.88" fill="#69ff00"/>
<rect x="157.47" y="248.55" width="15.12" height="4.88" fill="#00ff85"/>
<rect x="172.54" y="248.55" width="15.12" height="4.88" fill="#00ff0e"/>
<rect x="187.61" y="248.55" width="5.07" height="4.88" fill="#99ff00"/>
<rect x="192.63" y="248.55" width="5.07" height="4.88" fill="#00ff85"/>
<rect x="197.65" y="248.55" width="5.07" height="4.88" fill="#00ff0e"/>
<rect x="202.67" y="248.55" width="5.07" height="4.88" fill="#00ff85"/>
<rect x="207.7" y="248.55" width="5.07" height="4.88" fill="#69ff00"/>
<rect x="212.72" y="248.55" width="10.1" height="4.88" fill="#00ff85"/>
<rect x="222.76" y="248.55" width="10.1" height="4.88" fill="#00ff0e"/>
<rect x="232.81" y="248.55" width="5.07" height="4.88" fill="#00ff85"/>
<rect x="237.83" y="248.55" width="5.07" height="4.88" fill="#00ffcc"/>
<rect x="242.85" y="248.55" width="10.1" height="4.88" fill="#00fffc"/>
<rect x="97.2" y="253.38" width="5.07" height="4.88" fill="#00fffc"/>
<rect x="102.22" y="253.38" width="5.07" height="4.88" fill="#0014ff"/>
<rect x="107.25" y="253.38" width="5.07" height="4.88" fill="#00ff0e"/>
<rect x="112.27" y="253.38" width="20.14" height="4.88" fill="#00ffcc"/>
<rect x="132.36" y="253.38" width="5.07" height="4.88" fill="#69ff00"/>
<rect x="137.38" y="253.38" width="10.1" height="4.88" fill="#00ff85"/>
<rect x="147.43" y="253.38" width="5.07" height="4.88" fill="#00ff0e"/>
<rect x="152.45" y="253.38" width="15.12" height="4.88" fill="#00ff85"/>
<rect x="167.52" y="253.38" width="5.07" height="4.88" fill="#00ffcc"/>
<rect x="172.54" y="253.38" width="5.07" height="4.88" fill="#00ff85"/>
<rect x="177.56" y="253.38" width="5.07" height="4.88" fill="#00ffcc"/>
<rect x="182.58" y="253.38" width="20.14" height="4.88" fill="#00ff85"/>
<rect x="202.67" y="253.38" width="10.1" height="4.88" fill="#00ffcc"/>
<rect x="212.72" y="253.38" width="5.07" height="4.88" fill="#00ff85"/>
<rect x="217.74" y="253.38" width="5.07" height="4.88" fill="#00ff0e"/>
<rect x="222.76" y="253.38" width="20.14" height="4.88" fill="#00ff85"/>
<rect x="242.85" y="253.38" width="5.07" height="4.88" fill="#00fffc"/>
<rect x="247.88" y="253.38" width="5.07" height="4.88" fill="#00ff85"/>
<rect x="97.2" y="258.21" width="5.07" height="4.88" fill="#00ffcc"/>
<rect x="102.22" y="258.21" width="5.07" height="4.88" fill="#008bff"/>
<rect x="107.25" y="258.21" width="5.07" height="4.88" fill="#69ff00"/>
<rect x="112.27" y="258.21" width="5.07" height="4.88" fill="#00fffc"/>
<rect x="117.29" y="258.21" width="5.07" height="4.88" fill="#00ffcc"/>
<rect x="122.31" y="258.21" width="5.07" height="4.88" fill="#00fffc"/>
<rect x="127.34" y="258.21" width="5.07" height="4.88" fill="#00ffcc"/>
<rect x="132.36" y="258.21" width="10.1" height="4.88" fill="#00ff85"/>
<rect x="142.4" y="258.21" width="5.07" height="4.88" fill="#00fffc"/>
<rect x="147.43" y="258.21" width="5.07" height="4.88" fill="#00ffcc"/>
<rect x="152.45" y="258.21" width="30.19" height="4.88" fill="#00ff85"/>
<rect x="182.58" y="258.21" width="5.07" height="4.88" fill="#00ffcc"/>
<rect x="187.61" y="258.21" width="5.07" height="4.88" fill="#00fffc"/>
<rect x="192.63" y="258.21" width="5.07" height="4.88" fill="#00ffcc"/>
<rect x="197.65" y="258.21" width="5.07" height="4.88" fill="#00ff0e"/>
<rect x="202.67" y="258.21" width="5.07" height="4.88" fill="#00fffc"/>
<rect x="207.7" y="258.21" width="10.1" height="4.88" fill="#00ffcc"/>
<rect x="217.74" y="258.21" width="25.16" height="4.88" fill="#00ff85"/>
<rect x="242.85" y="258.21" width="5.07" height="4.88" fill="#008bff"/>
<rect x="247.88" y="258.21" width="5.07" height="4.88" fill="#00ffcc"/>
<rect x="97.2" y="263.04" width="5.07" height="4.88" fill="#00ff85"/>
<rect x="102.22" y="263.04" width="5.07" height="4.88" fill="#0014ff"/>
<rect x="107.25" y="263.04" width="5.07" height="4.88" fill="#00ff0e"/>
<rect x="112.27" y="263.04" width="10.1" height="4.88" fill="#00ff85"/>
<rect x="122.31" y="263.04" width="5.07" height="4.88" fill="#00ffcc"/>
<rect x="127.34" y="263.04" width="10.1" height="4.88" fill="#00ff85"/>
<rect x="137.38" y="263.04" width="5.07" height="4.88" fill="#00ffcc"/>
<rect x="142.4" y="263.04" width="20.14" height="4.88" fill="#00ff85"/>
<rect x="162.49" y="263.04" width="5.07" height="4.88" fill="#00ffcc"/>
<rect x="167.52" y="263.04" width="15.12" height="4.88" fill="#00ff85"/>
<rect x="182.58" y="263.04" width="5.07" height="4.88" fill="#00ff0e"/>
<rect x="187.61" y="263.04" width="5.07" height="4.88" fill="#00ffcc"/>
<rect x="192.63" y="263.04" width="5.07" height="4.88" fill="#00ff85"/>
<rect x="197.65" y="263.04" width="5.07" height="4.88" fill="#00ffcc"/>
<rect x="202.67" y="263.04" width="10.1" height="4.88" fill="#00ff85"/>
<rect x="212.72" y="263.04" width="5.07" height="4.88" fill="#00ff0e"/>
<rect x="217.74" y="263.04" width="5.07" height="4.88" fill="#00ff85"/>
<rect x="222.76" y="263.04" width="5.07" height="4.88" fill="#00ff0e"/>
<rect x="227.79" y="263.04" width="15.12" height="4.88" fill="#00ff85"/>
<rect x="242.85" y="263.04" width="5.07" height="4.88" fill="#008bff"/>
<rect x="247.88" y="263.04" width="5.07" height="4.88" fill="#00fffc"/>
<rect x="97.2" y="267.87" width="5.07" height="4.88" fill="#00ff85"/>
<rect x="102.22" y="267.87" width="5.07" height="4.88" fill="#008bff"/>
<rect x="107.25" y="267.87" width="5.07" height="4.88" fill="#00ff85"/>
<rect x="112.27" y="267.87" width="5.07" height="4.88" fill="#00ff0e"/>
<rect x="117.29" y="267.87" width="10.1" height="4.88" fill="#00ff85"/>
<rect x="127.34" y="267.87" width="5.07" height="4.88" fill="#00ff0e"/>
<rect x="132.36" y="267.87" width="5.07" height="4.88" fill="#ff0000"/>
<rect x="137.38" y="267.87" width="15.12" height="4.88" fill="#00ff85"/>
<rect x="152.45" y="267.87" width="5.07" height="4.88" fill="#69ff00"/>
<rect x="157.47" y="267.87" width="5.07" height="4.88" fill="#00ff0e"/>
<rect x="162.49" y="267.87" width="5.07" height="4.88" fill="#00ff85"/>
<rect x="167.52" y="267.87" width="5.07" height="4.88" fill="#00ffcc"/>
<rect x="172.54" y="267.87" width="5.07" height="4.88" fill="#69ff00"/>
<rect x="177.56" y="267.87" width="25.16" height="4.88" fill="#00ff85"/>
<rect x="202.67" y="267.87" width="5.07" height="4.88" fill="#00ff0e"/>
<rect x="207.7" y="267.87" width="5.07" height="4.88" fill="#00ff85"/>
<rect x="212.72" y="267.87" width="10.1" height="4.88" fill="#00ff0e"/>
<rect x="222.76" y="267.87" width="5.07" height="4.88" fill="#00ff85"/>
<rect x="227.79" y="267.87" width="5.07" height="4.88" fill="#00ffcc"/>
<rect x="232.81" y="267.87" width="5.07" height="4.88" fill="#00ff85"/>
<rect x="237.83" y="267.87" width="5.07" height="4.88" fill="#00ffcc"/>
<rect x="242.85" y="267.87" width="5.07" height="4.88" fill="#00ff85"/>
<rect x="247.88" y="267.87" width="5.07" height="4.88" fill="#00ffcc"/>
<rect x="97.2" y="272.7" width="5.07" height="4.88" fill="#00ff85"/>
<rect x="102.22" y="272.7" width="5.07" height="4.88" fill="#0014ff"/>
<rect x="107.25" y="272.7" width="5.07" height="4.88" fill="#00ff0e"/>
<rect x="112.27" y="272.7" width="65.34" height="4.88" fill="#00ff85"/>
<rect x="177.56" y="272.7" width="5.07" height="4.88" fill="#00ffcc"/>
<rect x="182.58" y="272.7" width="10.1" height="4.88" fill="#00ff85"/>
<rect x="192.63" y="272.7" width="5.07" height="4.88" fill="#00ffcc"/>
<rect x="197.65" y="272.7" width="5.07" height="4.88" fill="#69ff00"/>
<rect x="202.67" y="272.7" width="5.07" height="4.88" fill="#00ffcc"/>
<rect x="207.7" y="272.7" width="5.07" height="4.88" fill="#00ff85"/>
<rect x="212.72" y="272.7" width="5.07" height="4.88" fill="#00ff0e"/>
<rect x="217.74" y="272.7" width="15.12" height="4.88" fill="#00ff85"/>
<rect x="232.81" y="272.7" width="5.07" height="4.88" fill="#00ff0e"/>
<rect x="237.83" y="272.7" width="5.07" height="4.88" fill="#00ff85"/>
<rect x="242.85" y="272.7" width="5.07" height="4.88" fill="#00ff0e"/>
<rect x="247.88" y="272.7" width="5.07" height="4.88" fill="#00ff85"/>
<rect x="97.2" y="277.53" width="5.07" height="4.88" fill="#00ff85"/>
<rect x="102.22" y="277.53" width="5.07" height="4.88" fill="#00fffc"/>
<rect x="107.25" y="277.53" width="5.07" height="4.88" fill="#00ff85"/>
<rect x="112.27" y="277.53" width="5.07" height="4.88" fill="#00fffc"/>
<rect x="117.29" y="277.53" width="5.07" height="4.88" fill="#00ffcc"/>
<rect x="122.31" y="277.53" width="5.07" height="4.88" fill="#00ff85"/>
<rect x="127.34" y="277.53" width="20.14" height="4.88" fill="#00ffcc"/>
<rect x="147.43" y="277.53" width="5.07" height="4.88" fill="#00ff0e"/>
<rect x="152.45" y="277.53" width="5.07" height="4.88" fill="#ffee00"/>
<rect x="157.47" y="277.53" width="5.07" height="4.88" fill="#00ff0e"/>
<rect x="162.49" y="277.53" width="5.07" height="4.88" fill="#00ff85"/>
<rect x="167.52" y="277.53" width="5.07" height="4.88" fill="#00fffc"/>
<rect x="172.54" y="277.53" width="5.07" height="4.88" fill="#00ff85"/>
<rect x="177.56" y="277.53" width="5.07" height="4.88" fill="#00fffc"/>
<rect x="182.58" y="277.53" width="5.07" height="4.88" fill="#00ff85"/>
<rect x="187.61" y="277.53" width="5.07" height="4.88" fill="#00ffcc"/>
<rect x="192.63" y="277.53" width="25.16" height="4.88" fill="#00ff85"/>
<rect x="217.74" y="277.53" width="5.07" height="4.88" fill="#00ff0e"/>
<rect x="222.76" y="277.53" width="10.1" height="4.88" fill="#00ff85"/>
<rect x="232.81" y="277.53" width="5.07" height="4.88" fill="#99ff00"/>
<rect x="237.83" y="277.53" width="15.12" height="4.88" fill="#00ff85"/>
<rect x="97.2" y="282.35" width="5.07" height="4.88" fill="#00ffcc"/>
<rect x="102.22" y="282.35" width="5.07" height="4.88" fill="#00fffc"/>
<rect x="107.25" y="282.35" width="5.07" height="4.88" fill="#00ff0e"/>
<rect x="112.27" y="282.35" width="40.23" height="4.88" fill="#00ff85"/>
<rect x="152.45" y="282.35" width="5.07" height="4.88" fill="#00ff0e"/>
<rect x="157.47" y="282.35" width="20.14" height="4.88" fill="#00ff85"/>
<rect x="177.56" y="282.35" width="5.07" height="4.88" fill="#00ff0e"/>
<rect x="182.58" y="282.35" width="25.16" height="4.88" fill="#00ff85"/>
<rect x="207.7" y="282.35" width="5.07" height="4.88" fill="#00fffc"/>
<rect x="212.72" y="282.35" width="5.07" height="4.88" fill="#00ffcc"/>
<rect x="217.74" y="282.35" width="5.07" height="4.88" fill="#00ff0e"/>
<rect x="222.76" y="282.35" width="15.12" height="4.88" fill="#00ff85"/>
<rect x="237.83" y="282.35" width="5.07" height="4.88" fill="#00ffcc"/>
<rect x="242.85" y="282.35" width="5.07" height="4.88" fill="#e0ff00"/>
<rect x="247.88" y="282.35" width="5.07" height="4.88" fill="#00ffcc"/>
<rect x="97.2" y="287.18" width="10.1" height="4.88" fill="#00ff0e"/>
<rect x="107.25" y="287.18" width="5.07" height="4.88" fill="#00ff85"/>
<rect x="112.27" y="287.18" width="5.07" height="4.88" fill="#00ffcc"/>
<rect x="117.29" y="287.18" width="5.07" height="4.88" fill="#00ff85"/>
<rect x="122.31" y="287.18" width="5.07" height="4.88" fill="#00ff0e"/>
<rect x="127.34" y="287.18" width="5.07" height="4.88" fill="#00ffcc"/>
<rect x="132.36" y="287.18" width="10.1" height="4.88" fill="#00ff85"/>
<rect x="142.4" y="287.18" width="5.07" height="4.88" fill="#00ffcc"/>
<rect x="147.43" y="287.18" width="5.07" height="4.88" fill="#00ff0e"/>
<rect x="152.45" y="287.18" width="10.1" height="4.88" fill="#00ff85"/>
<rect x="162.49" y="287.18" width="5.07" height="4.88" fill="#00ffcc"/>
<rect x="167.52" y="287.18" width="5.07" height="4.88" fill="#00fffc"/>
<rect x="172.54" y="287.18" width="15.12" height="4.88" fill="#00ff85"/>
<rect x="187.61" y="287.18" width="5.07" height="4.88" fill="#00ff0e"/>
<rect x="192.63" y="287.18" width="5.07" height="4.88" fill="#00ffcc"/>
<rect x="197.65" y="287.18" width="5.07" height="4.88" fill="#00ff85"/>
<rect x="202.67" y="287.18" width="5.07" height="4.88" fill="#00ffcc"/>
<rect x="207.7" y="287.18" width="5.07" height="4.88" fill="#00ff85"/>
<rect x="212.72" y="287.18" width="5.07" height="4.88" fill="#00ff0e"/>
<rect x="217.74" y="287.18" width="20.14" height="4.88" fill="#00ff85"/>
<rect x="237.83" y="287.18" width="5.07" height="4.88" fill="#00ff0e"/>
<rect x="242.85" y="287.18" width="5.07" height="4.88" fill="#ff7700"/>
<rect x="247.88" y="287.18" width="5.07" height="4.88" fill="#00fffc"/>
<rect x="97.2" y="292.01" width="10.1" height="4.88" fill="#00ff0e"/>
<rect x="107.25" y="292.01" width="5.07" height="4.88" fill="#69ff00"/>
<rect x="112.27" y="292.01" width="10.1" height="4.88" fill="#00ff85"/>
<rect x="122.31" y="292.01" width="5.07" height="4.88" fill="#69ff00"/>
<rect x="127.34" y="292.01" width="5.07" height="4.88" fill="#00ff85"/>
<rect x="132.36" y="292.01" width="5.07" height="4.88" fill="#00ff0e"/>
<rect x="137.38" y="292.01" width="5.07" height="4.88" fill="#00ff85"/>
<rect x="142.4" y="292.01" width="5.07" height="4.88" fill="#00fffc"/>
<rect x="147.43" y="292.01" width="5.07" height="4.88" fill="#00ff0e"/>
<rect x="152.45" y="292.01" width="20.14" height="4.88" fill="#00ff85"/>
<rect x="172.54" y="292.01" width="10.1" height="4.88" fill="#69ff00"/>
<rect x="182.58" y="292.01" width="5.07" height="4.88" fill="#00ff85"/>
<rect x="187.61" y="292.01" width="20.14" height="4.88" fill="#00ff0e"/>
<rect x="207.7" y="292.01" width="5.07" height="4.88" fill="#e0ff00"/>
<rect x="212.72" y="292.01" width="30.19" height="4.88" fill="#00ff0e"/>
<rect x="242.85" y="292.01" width="5.07" height="4.88" fill="#69ff00"/>
<rect x="247.88" y="292.01" width="5.07" height="4.88" fill="#00ff85"/>
<rect x="97.2" y="296.84" width="10.1" height="4.88" fill="#00ff0e"/>
<rect x="107.25" y="296.84" width="5.07" height="4.88" fill="#e0ff00"/>
<rect x="112.27" y="296.84" width="10.1" height="4.88" fill="#00ff85"/>
<rect x="122.31" y="296.84" width="5.07" height="4.88" fill="#00ffcc"/>
<rect x="127.34" y="296.84" width="5.07" height="4.88" fill="#00ff85"/>
<rect x="132.36" y="296.84" width="5.07" height="4.88" fill="#00ff0e"/>
<rect x="137.38" y="296.84" width="5.07" height="4.88" fill="#00ff85"/>
<rect x="142.4" y="296.84" width="10.1" height="4.88" fill="#00ff0e"/>
<rect x="152.45" y="296.84" width="30.19" height="4.88" fill="#00ff85"/>
<rect x="182.58" y="296.84" width="5.07" height="4.88" fill="#69ff00"/>
<rect x="187.61" y="296.84" width="10.1" height="4.88" fill="#00ff85"/>
<rect x="197.65" y="296.84" width="5.07" height="4.88" fill="#99ff00"/>
<rect x="202.67" y="296.84" width="5.07" height="4.88" fill="#00ff85"/>
<rect x="207.7" y="296.84" width="10.1" height="4.88" fill="#00ff0e"/>
<rect x="217.74" y="296.84" width="5.07" height="4.88" fill="#e0ff00"/>
<rect x="222.76" y="296.84" width="5.07" height="4.88" fill="#ffee00"/>
<rect x="227.79" y="296.84" width="5.07" height="4.88" fill="#99ff00"/>
<rect x="232.81" y="296.84" width="10.1" height="4.88" fill="#e0ff00"/>
<rect x="242.85" y="296.84" width="5.07" height="4.88" fill="#69ff00"/>
<rect x="247.88" y="296.84" width="5.07" height="4.88" fill="#00ff0e"/>
<rect x="97.2" y="301.67" width="5.07" height="4.88" fill="#00fffc"/>
<rect x="102.22" y="301.67" width="5.07" height="4.88" fill="#00ffcc"/>
<rect x="107.25" y="301.67" width="5.07" height="4.88" fill="#00ff85"/>
<rect x="112.27" y="301.67" width="10.1" height="4.88" fill="#00ff0e"/>
<rect x="122.31" y="301.67" width="5.07" height="4.88" fill="#00ff85"/>
<rect x="127.34" y="301.67" width="5.07" height="4.88" fill="#00fffc"/>
<rect x="132.36" y="301.67" width="5.07" height="4.88" fill="#00ff0e"/>
<rect x="137.38" y="301.67" width="5.07" height="4.88" fill="#00ff85"/>
<rect x="142.4" y="301.67" width="5.07" height="4.88" fill="#00ffcc"/>
<rect x="147.43" y="301.67" width="10.1" height="4.88" fill="#00ff85"/>
<rect x="157.47" y="301.67" width="10.1" height="4.88" fill="#00ff0e"/>
<rect x="167.52" y="301.67" width="5.07" height="4.88" fill="#00fffc"/>
<rect x="172.54" y="301.67" width="10.1" height="4.88" fill="#00ffcc"/>
<rect x="182.58" y="301.67" width="5.07" height="4.88" fill="#008bff"/>
<rect x="187.61" y="301.67" width="5.07" height="4.88" fill="#00fffc"/>
<rect x="192.63" y="301.67" width="5.07" height="4.88" fill="#00ffcc"/>
<rect x="197.65" y="301.67" width="5.07" height="4.88" fill="#00ff85"/>
<rect x="202.67" y="301.67" width="5.07" height="4.88" fill="#00ffcc"/>
<rect x="207.7" y="301.67" width="5.07" height="4.88" fill="#00fffc"/>
<rect x="212.72" y="301.67" width="5.07" height="4.88" fill="#00ff85"/>
<rect x="217.74" y="301.67" width="5.07" height="4.88" fill="#00fffc"/>
<rect x="222.76" y="301.67" width="5.07" height="4.88" fill="#00ff85"/>
<rect x="227.79" y="301.67" width="10.1" height="4.88" fill="#00ffcc"/>
<rect x="237.83" y="301.67" width="5.07" height="4.88" fill="#00ff85"/>
<rect x="242.85" y="301.67" width="10.1" height="4.88" fill="#00ff0e"/>
</g>
<path d="M102.22 156.8V306.5M97.2 161.63H252.9M107.25 156.8V306.5M97.2 166.46H252.9M112.27 156.8V306.5M97.2 171.29H252.9M117.29 156.8V306.5M97.2 176.12H252.9M122.31 156.8V306.5M97.2 180.95H252.9M127.34 156.8V306.5M97.2 185.77H252.9M132.36 156.8V306.5M97.2 190.6H252.9M137.38 156.8V306.5M97.2 195.43H252.9M142.4 156.8V306.5M97.2 200.26H252.9M147.43 156.8V306.5M97.2 205.09H252.9M152.45 156.8V306.5M97.2 209.92H252.9M157.47 156.8V306.5M97.2 214.75H252.9M162.49 156.8V306.5M97.2 219.58H252.9M167.52 156.8V306.5M97.2 224.41H252.9M172.54 156.8V306.5M97.2 229.24H252.9M177.56 156.8V306.5M97.2 234.06H252.9M182.58 156.8V306.5M97.2 238.89H252.9M187.61 156.8V306.5M97.2 243.72H252.9M192.63 156.8V306.5M97.2 248.55H252.9M197.65 156.8V306.5M97.2 253.38H252.9M202.67 156.8V306.5M97.2 258.21H252.9M207.7 156.8V306.5M97.2 263.04H252.9M212.72 156.8V306.5M97.2 267.87H252.9M217.74 156.8V306.5M97.2 272.7H252.9M222.76 156.8V306.5M97.2 277.53H252.9M227.79 156.8V306.5M97.2 282.35H252.9M232.81 156.8V306.5M97.2 287.18H252.9M237.83 156.8V306.5M97.2 292.01H252.9M242.85 156.8V306.5M97.2 296.84H252.9M247.88 156.8V306.5M97.2 301.67H252.9" stroke="#007830" stroke-opacity="0.2" stroke-width="0.5" fill="none"/>
</g>
<g shape-rendering="crispEdges">
<rect x="253.7" y="298.82" width="7.7" height="7.52" fill="#6300ff"/>
<rect x="253.7" y="291.35" width="7.7" height="7.52" fill="#3300ff"/>
<rect x="253.7" y="283.88" width="7.7" height="7.52" fill="#0014ff"/>
<rect x="253.7" y="276.4" width="7.7" height="7.52" fill="#0044ff"/>
<rect x="253.7" y="268.93" width="7.7" height="7.52" fill="#008bff"/>
<rect x="253.7" y="261.45" width="7.7" height="7.52" fill="#00bbff"/>
<rect x="253.7" y="253.98" width="7.7" height="7.52" fill="#00fffc"/>
<rect x="253.7" y="246.5" width="7.7" height="7.52" fill="#00ffcc"/>
<rect x="253.7" y="239.03" width="7.7" height="7.52" fill="#00ff85"/>
<rect x="253.7" y="231.55" width="7.7" height="7.52" fill="#00ff55"/>
<rect x="253.7" y="224.08" width="7.7" height="7.52" fill="#00ff0e"/>
<rect x="253.7" y="216.6" width="7.7" height="7.52" fill="#22ff00"/>
<rect x="253.7" y="209.12" width="7.7" height="7.52" fill="#69ff00"/>
<rect x="253.7" y="201.65" width="7.7" height="7.52" fill="#99ff00"/>
<rect x="253.7" y="194.18" width="7.7" height="7.52" fill="#e0ff00"/>
<rect x="253.7" y="186.7" width="7.7" height="7.52" fill="#ffee00"/>
<rect x="253.7" y="179.23" width="7.7" height="7.52" fill="#ffa700"/>
<rect x="253.7" y="171.75" width="7.7" height="7.52" fill="#ff7700"/>
<rect x="253.7" y="164.28" width="7.7" height="7.52" fill="#ff3000"/>
<rect x="253.7" y="156.8" width="7.7" height="7.52" fill="#ff0000"/>
</g>
<g filter="url(#soft)">
<g shape-rendering="crispEdges">
<rect x="333.2" y="158.5" width="4.87" height="4.84" fill="#e0ff00"/>
<rect x="338.02" y="158.5" width="4.87" height="4.84" fill="#00fffc"/>
<rect x="342.84" y="158.5" width="4.87" height="4.84" fill="#00ff38"/>
<rect x="347.66" y="158.5" width="4.87" height="4.84" fill="#00ff9c"/>
<rect x="352.48" y="158.5" width="4.87" height="4.84" fill="#00ffcc"/>
<rect x="357.3" y="158.5" width="4.87" height="4.84" fill="#00ff9c"/>
<rect x="362.12" y="158.5" width="9.69" height="4.84" fill="#00ffcc"/>
<rect x="371.75" y="158.5" width="9.69" height="4.84" fill="#00fffc"/>
<rect x="381.39" y="158.5" width="4.87" height="4.84" fill="#00ffcc"/>
<rect x="386.21" y="158.5" width="4.87" height="4.84" fill="#00ff9c"/>
<rect x="391.03" y="158.5" width="4.87" height="4.84" fill="#00ff38"/>
<rect x="395.85" y="158.5" width="9.69" height="4.84" fill="#00ff9c"/>
<rect x="405.49" y="158.5" width="4.87" height="4.84" fill="#00ff38"/>
<rect x="410.31" y="158.5" width="4.87" height="4.84" fill="#22ff00"/>
<rect x="415.13" y="158.5" width="14.51" height="4.84" fill="#00ffcc"/>
<rect x="429.59" y="158.5" width="4.87" height="4.84" fill="#00ff38"/>
<rect x="434.41" y="158.5" width="4.87" height="4.84" fill="#00ffcc"/>
<rect x="439.23" y="158.5" width="4.87" height="4.84" fill="#00fffc"/>
<rect x="444.05" y="158.5" width="19.33" height="4.84" fill="#00ff9c"/>
<rect x="463.32" y="158.5" width="4.87" height="4.84" fill="#00ff38"/>
<rect x="468.14" y="158.5" width="9.69" height="4.84" fill="#00ff9c"/>
<rect x="477.78" y="158.5" width="4.87" height="4.84" fill="#ffee00"/>
<rect x="333.2" y="163.29" width="4.87" height="4.84" fill="#00bbff"/>
<rect x="338.02" y="163.29" width="4.87" height="4.84" fill="#00ff38"/>
<rect x="342.84" y="163.29" width="4.87" height="4.84" fill="#00ff9c"/>
<rect x="347.66" y="163.29" width="4.87" height="4.84" fill="#00fffc"/>
<rect x="352.48" y="163.29" width="4.87" height="4.84" fill="#00ff9c"/>
<rect x="357.3" y="163.29" width="4.87" height="4.84" fill="#00ffcc"/>
<rect x="362.12" y="163.29" width="38.6" height="4.84" fill="#00ff9c"/>
<rect x="400.67" y="163.29" width="4.87" height="4.84" fill="#00ffcc"/>
<rect x="405.49" y="163.29" width="4.87" height="4.84" fill="#00ff38"/>
<rect x="410.31" y="163.29" width="4.87" height="4.84" fill="#00ff9c"/>
<rect x="415.13" y="163.29" width="4.87" height="4.84" fill="#00fffc"/>
<rect x="419.95" y="163.29" width="9.69" height="4.84" fill="#00ff38"/>
<rect x="429.59" y="163.29" width="4.87" height="4.84" fill="#00ff9c"/>
<rect x="434.41" y="163.29" width="14.51" height="4.84" fill="#00ff38"/>
<rect x="448.86" y="163.29" width="14.51" height="4.84" fill="#00ff9c"/>
<rect x="463.32" y="163.29" width="4.87" height="4.84" fill="#00ff38"/>
<rect x="468.14" y="163.29" width="4.87" height="4.84" fill="#00ff9c"/>
<rect x="472.96" y="163.29" width="9.69" height="4.84" fill="#00ffcc"/>
<rect x="333.2" y="168.07" width="4.87" height="4.84" fill="#0014ff"/>
<rect x="338.02" y="168.07" width="19.33" height="4.84" fill="#00fffc"/>
<rect x="357.3" y="168.07" width="4.87" height="4.84" fill="#00ff9c"/>
<rect x="362.12" y="168.07" width="14.51" height="4.84" fill="#00ffcc"/>
<rect x="376.57" y="168.07" width="28.97" height="4.84" fill="#00ff9c"/>
<rect x="405.49" y="168.07" width="4.87" height="4.84" fill="#00ff38"/>
<rect x="410.31" y="168.07" width="4.87" height="4.84" fill="#00ffcc"/>
<rect x="415.13" y="168.07" width="57.88" height="4.84" fill="#00ff9c"/>
<rect x="472.96" y="168.07" width="4.87" height="4.84" fill="#00ff38"/>
<rect x="477.78" y="168.07" width="4.87" height="4.84" fill="#00ff9c"/>
<rect x="333.2" y="172.86" width="4.87" height="4.84" fill="#008bff"/>
<rect x="338.02" y="172.86" width="4.87" height="4.84" fill="#00ff38"/>
<rect x="342.84" y="172.86" width="4.87" height="4.84" fill="#00fffc"/>
<rect x="347.66" y="172.86" width="4.87" height="4.84" fill="#008bff"/>
<rect x="352.48" y="172.86" width="4.87" height="4.84" fill="#00fffc"/>
<rect x="357.3" y="172.86" width="4.87" height="4.84" fill="#00ffcc"/>
<rect x="362.12" y="172.86" width="9.69" height="4.84" fill="#00ff9c"/>
<rect x="371.75" y="172.86" width="4.87" height="4.84" fill="#00ffcc"/>
<rect x="376.57" y="172.86" width="4.87" height="4.84" fill="#00fffc"/>
<rect x="381.39" y="172.86" width="19.33" height="4.84" fill="#00ff9c"/>
<rect x="400.67" y="172.86" width="4.87" height="4.84" fill="#00ffcc"/>
<rect x="405.49" y="172.86" width="9.69" height="4.84" fill="#00ff9c"/>
<rect x="415.13" y="172.86" width="9.69" height="4.84" fill="#00ffcc"/>
<rect x="424.77" y="172.86" width="14.51" height="4.84" fill="#00ff9c"/>
<rect x="439.23" y="172.86" width="4.87" height="4.84" fill="#00ffcc"/>
<rect x="444.05" y="172.86" width="9.69" height="4.84" fill="#00ff9c"/>
<rect x="453.68" y="172.86" width="4.87" height="4.84" fill="#00ffcc"/>
<rect x="458.5" y="172.86" width="24.15" height="4.84" fill="#00ff9c"/>
<rect x="333.2" y="177.65" width="4.87" height="4.84" fill="#0014ff"/>
<rect x="338.02" y="177.65" width="4.87" height="4.84" fill="#00ffcc"/>
<rect x="342.84" y="177.65" width="4.87" height="4.84" fill="#00ff9c"/>
<rect x="347.66" y="177.65" width="4.87" height="4.84" fill="#00ffcc"/>
<rect x="352.48" y="177.65" width="4.87" height="4.84" fill="#00fffc"/>
<rect x="357.3" y="177.65" width="4.87" height="4.84" fill="#00ff9c"/>
<rect x="362.12" y="177.65" width="4.87" height="4.84" fill="#00ffcc"/>
<rect x="366.94" y="177.65" width="19.33" height="4.84" fill="#00ff9c"/>
<rect x="386.21" y="177.65" width="9.69" height="4.84" fill="#00ffcc"/>
<rect x="395.85" y="177.65" width="4.87" height="4.84" fill="#00ff38"/>
<rect x="400.67" y="177.65" width="9.69" height="4.84" fill="#00ffcc"/>
<rect x="410.31" y="177.65" width="4.87" height="4.84" fill="#00ff9c"/>
<rect x="415.13" y="177.65" width="4.87" height="4.84" fill="#00fffc"/>
<rect x="419.95" y="177.65" width="19.33" height="4.84" fill="#00ff9c"/>
<rect x="439.23" y="177.65" width="4.87" height="4.84" fill="#00ffcc"/>
<rect x="444.05" y="177.65" width="19.33" height="4.84" fill="#00ff9c"/>
<rect x="463.32" y="177.65" width="4.87" height="4.84" fill="#00bbff"/>
<rect x="468.14" y="177.65" width="9.69" height="4.84" fill="#00ff9c"/>
<rect x="477.78" y="177.65" width="4.87" height="4.84" fill="#00ffcc"/>
<rect x="333.2" y="182.44" width="4.87" height="4.84" fill="#008bff"/>
<rect x="338.02" y="182.44" width="9.69" height="4.84" fill="#00ffcc"/>
<rect x="347.66" y="182.44" width="9.69" height="4.84" fill="#00ff9c"/>
<rect x="357.3" y="182.44" width="4.87" height="4.84" fill="#99ff00"/>
<rect x="362.12" y="182.44" width="4.87" height="4.84" fill="#00ff38"/>
<rect x="366.94" y="182.44" width="9.69" height="4.84" fill="#00ff9c"/>
<rect x="376.57" y="182.44" width="4.87" height="4.84" fill="#00ffcc"/>
<rect x="381.39" y="182.44" width="14.51" height="4.84" fill="#00ff9c"/>
<rect x="395.85" y="182.44" width="4.87" height="4.84" fill="#00ffcc"/>
<rect x="400.67" y="182.44" width="4.87" height="4.84" fill="#00ff9c"/>
<rect x="405.49" y="182.44" width="4.87" height="4.84" fill="#00ffcc"/>
<rect x="410.31" y="182.44" width="4.87" height="4.84" fill="#00fffc"/>
<rect x="415.13" y="182.44" width="4.87" height="4.84" fill="#00bbff"/>
<rect x="419.95" y="182.44" width="4.87" height="4.84" fill="#00ffcc"/>
<rect x="424.77" y="182.44" width="4.87" height="4.84" fill="#00fffc"/>
<rect x="429.59" y="182.44" width="4.87" height="4.84" fill="#00ff9c"/>
<rect x="434.41" y="182.44" width="9.69" height="4.84" fill="#00ffcc"/>
<rect x="444.05" y="182.44" width="33.79" height="4.84" fill="#00ff9c"/>
<rect x="477.78" y="182.44" width="4.87" height="4.84" fill="#00fffc"/>
<rect x="333.2" y="187.22" width="4.87" height="4.84" fill="#0014ff"/>
<rect x="338.02" y="187.22" width="9.69" height="4.84" fill="#00ff9c"/>
<rect x="347.66" y="187.22" width="9.69" height="4.84" fill="#00ffcc"/>
<rect x="357.3" y="187.22" width="38.6" height="4.84" fill="#00ff9c"/>
<rect x="395.85" y="187.22" width="4.87" height="4.84" fill="#00ffcc"/>
<rect x="400.67" y="187.22" width="28.97" height="4.84" fill="#00ff9c"/>
<rect x="429.59" y="187.22" width="9.69" height="4.84" fill="#00fffc"/>
<rect x="439.23" y="187.22" width="4.87" height="4.84" fill="#00ff9c"/>
<rect x="444.05" y="187.22" width="4.87" height="4.84" fill="#00ffcc"/>
<rect x="448.86" y="187.22" width="4.87" height="4.84" fill="#00fffc"/>
<rect x="453.68" y="187.22" width="24.15" height="4.84" fill="#00ff9c"/>
<rect x="477.78" y="187.22" width="4.87" height="4.84" fill="#00ffcc"/>
<rect x="333.2" y="192.01" width="4.87" height="4.84" fill="#00bbff"/>
<rect x="338.02" y="192.01" width="4.87" height="4.84" fill="#00ffcc"/>
<rect x="342.84" y="192.01" width="24.15" height="4.84" fill="#00ff9c"/>
<rect x="366.94" y="192.01" width="9.69" height="4.84" fill="#22ff00"/>
<rect x="376.57" y="192.01" width="4.87" height="4.84" fill="#00ffcc"/>
<rect x="381.39" y="192.01" width="9.69" height="4.84" fill="#00ff38"/>
<rect x="391.03" y="192.01" width="14.51" height="4.84" fill="#00ff9c"/>
<rect x="405.49" y="192.01" width="4.87" height="4.84" fill="#69ff00"/>
<rect x="410.31" y="192.01" width="4.87" height="4.84" fill="#e0ff00"/>
<rect x="415.13" y="192.01" width="4.87" height="4.84" fill="#00ff38"/>
<rect x="419.95" y="192.01" width="9.69" height="4.84" fill="#00ff9c"/>
<rect x="429.59" y="192.01" width="4.87" height="4.84" fill="#00ff38"/>
<rect x="434.41" y="192.01" width="4.87" height="4.84" fill="#00ff9c"/>
<rect x="439.23" y="192.01" width="4.87" height="4.84" fill="#00ffcc"/>
<rect x="444.05" y="192.01" width="4.87" height="4.84" fill="#00ff9c"/>
<rect x="448.86" y="192.01" width="4.87" height="4.84" fill="#00ffcc"/>
<rect x="453.68" y="192.01" width="4.87" height="4.84" fill="#00ff9c"/>
<rect x="458.5" y="192.01" width="9.69" height="4.84" fill="#00ff38"/>
<rect x="468.14" y="192.01" width="4.87" height="4.84" fill="#69ff00"/>
<rect x="472.96" y="192.01" width="9.69" height="4.84" fill="#00ff9c"/>
<rect x="333.2" y="196.8" width="4.87" height="4.84" fill="#008bff"/>
<rect x="338.02" y="196.8" width="28.97" height="4.84" fill="#00ff9c"/>
<rect x="366.94" y="196.8" width="9.69" height="4.84" fill="#00ff38"/>
<rect x="376.57" y="196.8" width="4.87" height="4.84" fill="#00ffcc"/>
<rect x="381.39" y="196.8" width="9.69" height="4.84" fill="#00ff38"/>
<rect x="391.03" y="196.8" width="9.69" height="4.84" fill="#00ff9c"/>
<rect x="400.67" y="196.8" width="4.87" height="4.84" fill="#00ffcc"/>
<rect x="405.49" y="196.8" width="4.87" height="4.84" fill="#00ff38"/>
<rect x="410.31" y="196.8" width="24.15" height="4.84" fill="#00ff9c"/>
<rect x="434.41" y="196.8" width="4.87" height="4.84" fill="#00fffc"/>
<rect x="439.23" y="196.8" width="4.87" height="4.84" fill="#00ffcc"/>
<rect x="444.05" y="196.8" width="4.87" height="4.84" fill="#00ff9c"/>
<rect x="448.86" y="196.8" width="4.87" height="4.84" fill="#00ffcc"/>
<rect x="453.68" y="196.8" width="4.87" height="4.84" fill="#00ff38"/>
<rect x="458.5" y="196.8" width="4.87" height="4.84" fill="#00ff9c"/>
<rect x="463.32" y="196.8" width="14.51" height="4.84" fill="#00ffcc"/>
<rect x="477.78" y="196.8" width="4.87" height="4.84" fill="#00ff38"/>
<rect x="333.2" y="201.58" width="9.69" height="4.84" fill="#00bbff"/>
<rect x="342.84" y="201.58" width="4.87" height="4.84" fill="#00ffcc"/>
<rect x="347.66" y="201.58" width="24.15" height="4.84" fill="#00ff9c"/>
<rect x="371.75" y="201.58" width="4.87" height="4.84" fill="#00ffcc"/>
<rect x="376.57" y="201.58" width="4.87" height="4.84" fill="#00fffc"/>
<rect x="381.39" y="201.58" width="9.69" height="4.84" fill="#00ff9c"/>
<rect x="391.03" y="201.58" width="9.69" height="4.84" fill="#00ffcc"/>
<rect x="400.67" y="201.58" width="4.87" height="4.84" fill="#00ff9c"/>
<rect x="405.49" y="201.58" width="14.51" height="4.84" fill="#00ffcc"/>
<rect x="419.95" y="201.58" width="4.87" height="4.84" fill="#00fffc"/>
<rect x="424.77" y="201.58" width="4.87" height="4.84" fill="#00ffcc"/>
<rect x="429.59" y="201.58" width="4.87" height="4.84" fill="#00ff9c"/>
<rect x="434.41" y="201.58" width="4.87" height="4.84" fill="#00fffc"/>
<rect x="439.23" y="201.58" width="4.87" height="4.84" fill="#00ffcc"/>
<rect x="444.05" y="201.58" width="9.69" height="4.84" fill="#00ff9c"/>
<rect x="453.68" y="201.58" width="9.69" height="4.84" fill="#00fffc"/>
<rect x="463.32" y="201.58" width="14.51" height="4.84" fill="#00ffcc"/>
<rect x="477.78" y="201.58" width="4.87" height="4.84" fill="#00ff9c"/>
<rect x="333.2" y="206.37" width="4.87" height="4.84" fill="#00ffcc"/>
<rect x="338.02" y="206.37" width="14.51" height="4.84" fill="#00ff9c"/>
<rect x="352.48" y="206.37" width="4.87" height="4.84" fill="#00ff38"/>
<rect x="357.3" y="206.37" width="4.87" height="4.84" fill="#99ff00"/>
<rect x="362.12" y="206.37" width="4.87" height="4.84" fill="#00ff9c"/>
<rect x="366.94" y="206.37" width="9.69" height="4.84" fill="#00ff38"/>
<rect x="376.57" y="206.37" width="4.87" height="4.84" fill="#00ff9c"/>
<rect x="381.39" y="206.37" width="9.69" height="4.84" fill="#69ff00"/>
<rect x="391.03" y="206.37" width="9.69" height="4.84" fill="#00ff9c"/>
<rect x="400.67" y="206.37" width="4.87" height="4.84" fill="#00ffcc"/>
<rect x="405.49" y="206.37" width="4.87" height="4.84" fill="#00ff9c"/>
<rect x="410.31" y="206.37" width="4.87" height="4.84" fill="#00ffcc"/>
<rect x="415.13" y="206.37" width="4.87" height="4.84" fill="#00ff9c"/>
<rect x="419.95" y="206.37" width="4.87" height="4.84" fill="#00ff38"/>
<rect x="424.77" y="206.37" width="9.69" height="4.84" fill="#00ff9c"/>
<rect x="434.41" y="206.37" width="4.87" height="4.84" fill="#00fffc"/>
<rect x="439.23" y="206.37" width="4.87" height="4.84" fill="#00ffcc"/>
<rect x="444.05" y="206.37" width="19.33" height="4.84" fill="#00ff9c"/>
<rect x="463.32" y="206.37" width="4.87" height="4.84" fill="#00bbff"/>
<rect x="468.14" y="206.37" width="4.87" height="4.84" fill="#00fffc"/>
<rect x="472.96" y="206.37" width="4.87" height="4.84" fill="#00ff9c"/>
<rect x="477.78" y="206.37" width="4.87" height="4.84" fill="#00ffcc"/>
<rect x="333.2" y="211.16" width="4.87" height="4.84" fill="#00ffcc"/>
<rect x="338.02" y="211.16" width="4.87" height="4.84" fill="#00ff38"/>
<rect x="342.84" y="211.16" width="14.51" height="4.84" fill="#00ffcc"/>
<rect x="357.3" y="211.16" width="4.87" height="4.84" fill="#00fffc"/>
<rect x="362.12" y="211.16" width="4.87" height="4.84" fill="#008bff"/>
<rect x="366.94" y="211.16" width="14.51" height="4.84" fill="#00ff9c"/>
<rect x="381.39" y="211.16" width="9.69" height="4.84" fill="#00ff38"/>
<rect x="391.03" y="211.16" width="9.69" height="4.84" fill="#00ff9c"/>
<rect x="400.67" y="211.16" width="4.87" height="4.84" fill="#00ffcc"/>
<rect x="405.49" y="211.16" width="19.33" height="4.84" fill="#00ff9c"/>
<rect x="424.77" y="211.16" width="4.87" height="4.84" fill="#00ffcc"/>
<rect x="429.59" y="211.16" width="4.87" height="4.84" fill="#00ff9c"/>
<rect x="434.41" y="211.16" width="9.69" height="4.84" fill="#00ffcc"/>
<rect x="444.05" y="211.16" width="4.87" height="4.84" fill="#00ff38"/>
<rect x="448.86" y="211.16" width="33.79" height="4.84" fill="#00ff9c"/>
<rect x="333.2" y="215.95" width="4.87" height="4.84" fill="#00ffcc"/>
<rect x="338.02" y="215.95" width="14.51" height="4.84" fill="#00ff9c"/>
<rect x="352.48" y="215.95" width="9.69" height="4.84" fill="#00fffc"/>
<rect x="362.12" y="215.95" width="4.87" height="4.84" fill="#00ffcc"/>
<rect x="366.94" y="215.95" width="4.87" height="4.84" fill="#00ff9c"/>
<rect x="371.75" y="215.95" width="9.69" height="4.84" fill="#00ffcc"/>
<rect x="381.39" y="215.95" width="9.69" height="4.84" fill="#00ff38"/>
<rect x="391.03" y="215.95" width="4.87" height="4.84" fill="#00ffcc"/>
<rect x="395.85" y="215.95" width="14.51" height="4.84" fill="#00ff9c"/>
<rect x="410.31" y="215.95" width="4.87" height="4.84" fill="#00bbff"/>
<rect x="415.13" y="215.95" width="4.87" height="4.84" fill="#00ffcc"/>
<rect x="419.95" y="215.95" width="9.69" height="4.84" fill="#00ff9c"/>
<rect x="429.59" y="215.95" width="4.87" height="4.84" fill="#00ff38"/>
<rect x="434.41" y="215.95" width="9.69" height="4.84" fill="#00ffcc"/>
<rect x="444.05" y="215.95" width="9.69" height="4.84" fill="#00ff9c"/>
<rect x="453.68" y="215.95" width="4.87" height="4.84" fill="#00ff38"/>
<rect x="458.5" y="215.95" width="9.69" height="4.84" fill="#00ff9c"/>
<rect x="468.14" y="215.95" width="4.87" height="4.84" fill="#00ff38"/>
<rect x="472.96" y="215.95" width="9.69" height="4.84" fill="#00ff9c"/>
<rect x="333.2" y="220.73" width="4.87" height="4.84" fill="#00fffc"/>
<rect x="338.02" y="220.73" width="4.87" height="4.84" fill="#22ff00"/>
<rect x="342.84" y="220.73" width="14.51" height="4.84" fill="#00ff9c"/>
<rect x="357.3" y="220.73" width="9.69" height="4.84" fill="#00ffcc"/>
<rect x="366.94" y="220.73" width="9.69" height="4.84" fill="#00ff9c"/>
<rect x="376.57" y="220.73" width="4.87" height="4.84" fill="#00ffcc"/>
<rect x="381.39" y="220.73" width="4.87" height="4.84" fill="#00ff9c"/>
<rect x="386.21" y="220.73" width="4.87" height="4.84" fill="#00ffcc"/>
<rect x="391.03" y="220.73" width="4.87" height="4.84" fill="#00fffc"/>
<rect x="395.85" y="220.73" width="24.15" height="4.84" fill="#00ff9c"/>
<rect x="419.95" y="220.73" width="4.87" height="4.84" fill="#00ffcc"/>
<rect x="424.77" y="220.73" width="4.87" height="4.84" fill="#00fffc"/>
<rect x="429.59" y="220.73" width="4.87" height="4.84" fill="#00ff9c"/>
<rect x="434.41" y="220.73" width="9.69" height="4.84" fill="#00fffc"/>
<rect x="444.05" y="220.73" width="38.6" height="4.84" fill="#00ff9c"/>
<rect x="333.2" y="225.52" width="4.87" height="4.84" fill="#00bbff"/>
<rect x="338.02" y="225.52" width="9.69" height="4.84" fill="#00ff9c"/>
<rect x="347.66" y="225.52" width="9.69" height="4.84" fill="#00ffcc"/>
<rect x="357.3" y="225.52" width="4.87" height="4.84" fill="#00ff9c"/>
<rect x="362.12" y="225.52" width="4.87" height="4.84" fill="#00fffc"/>
<rect x="366.94" y="225.52" width="14.51" height="4.84" fill="#00ff9c"/>
<rect x="381.39" y="225.52" width="4.87" height="4.84" fill="#99ff00"/>
<rect x="386.21" y="225.52" width="4.87" height="4.84" fill="#69ff00"/>
<rect x="391.03" y="225.52" width="19.33" height="4.84" fill="#00ff9c"/>
<rect x="410.31" y="225.52" width="9.69" height="4.84" fill="#00fffc"/>
<rect x="419.95" y="225.52" width="4.87" height="4.84" fill="#00ff9c"/>
<rect x="424.77" y="225.52" width="4.87" height="4.84" fill="#00ffcc"/>
<rect x="429.59" y="225.52" width="4.87" height="4.84" fill="#00ff9c"/>
<rect x="434.41" y="225.52" width="4.87" height="4.84" fill="#00ffcc"/>
<rect x="439.23" y="225.52" width="4.87" height="4.84" fill="#00ff9c"/>
<rect x="444.05" y="225.52" width="4.87" height="4.84" fill="#00ff38"/>
<rect x="448.86" y="225.52" width="4.87" height="4.84" fill="#00fffc"/>
<rect x="453.68" y="225.52" width="14.51" height="4.84" fill="#00ff9c"/>
<rect x="468.14" y="225.52" width="4.87" height="4.84" fill="#00ffcc"/>
<rect x="472.96" y="225.52" width="9.69" height="4.84" fill="#00ff9c"/>
<rect x="333.2" y="230.31" width="4.87" height="4.84" fill="#00fffc"/>
<rect x="338.02" y="230.31" width="4.87" height="4.84" fill="#00ff9c"/>
<rect x="342.84" y="230.31" width="14.51" height="4.84" fill="#00ffcc"/>
<rect x="357.3" y="230.31" width="4.87" height="4.84" fill="#00fffc"/>
<rect x="362.12" y="230.31" width="4.87" height="4.84" fill="#008bff"/>
<rect x="366.94" y="230.31" width="14.51" height="4.84" fill="#00ff9c"/>
<rect x="381.39" y="230.31" width="4.87" height="4.84" fill="#00ff38"/>
<rect x="386.21" y="230.31" width="9.69" height="4.84" fill="#00ff9c"/>
<rect x="395.85" y="230.31" width="4.87" height="4.84" fill="#00ffcc"/>
<rect x="400.67" y="230.31" width="9.69" height="4.84" fill="#00ff9c"/>
<rect x="410.31" y="230.31" width="4.87" height="4.84" fill="#00ffcc"/>
<rect x="415.13" y="230.31" width="4.87" height="4.84" fill="#00ff9c"/>
<rect x="419.95" y="230.31" width="4.87" height="4.84" fill="#00fffc"/>
<rect x="424.77" y="230.31" width="4.87" height="4.84" fill="#00ffcc"/>
<rect x="429.59" y="230.31" width="4.87" height="4.84" fill="#00ff9c"/>
<rect x="434.41" y="230.31" width="4.87" height="4.84" fill="#00ff38"/>
<rect x="439.23" y="230.31" width="4.87" height="4.84" fill="#00fffc"/>
<rect x="444.05" y="230.31" width="33.79" height="4.84" fill="#00ffcc"/>
<rect x="477.78" y="230.31" width="4.87" height="4.84" fill="#00fffc"/>
<rect x="333.2" y="235.09" width="4.87" height="4.84" fill="#00ffcc"/>
<rect x="338.02" y="235.09" width="4.87" height="4.84" fill="#00ff9c"/>
<rect x="342.84" y="235.09" width="4.87" height="4.84" fill="#00ffcc"/>
<rect x="347.66" y="235.09" width="19.33" height="4.84" fill="#00fffc"/>
<rect x="366.94" y="235.09" width="9.69" height="4.84" fill="#00ff9c"/>
<rect x="376.57" y="235.09" width="4.87" height="4.84" fill="#00fffc"/>
<rect x="381.39" y="235.09" width="9.69" height="4.84" fill="#00ff38"/>
<rect x="391.03" y="235.09" width="9.69" height="4.84" fill="#00ffcc"/>
<rect x="400.67" y="235.09" width="14.51" height="4.84" fill="#00ff9c"/>
<rect x="415.13" y="235.09" width="14.51" height="4.84" fill="#00ffcc"/>
<rect x="429.59" y="235.09" width="4.87" height="4.84" fill="#00fffc"/>
<rect x="434.41" y="235.09" width="4.87" height="4.84" fill="#00bbff"/>
<rect x="439.23" y="235.09" width="4.87" height="4.84" fill="#00ffcc"/>
<rect x="444.05" y="235.09" width="4.87" height="4.84" fill="#00fffc"/>
<rect x="448.86" y="235.09" width="4.87" height="4.84" fill="#00ffcc"/>
<rect x="453.68" y="235.09" width="4.87" height="4.84" fill="#00ff9c"/>
<rect x="458.5" y="235.09" width="14.51" height="4.84" fill="#00ffcc"/>
<rect x="472.96" y="235.09" width="4.87" height="4.84" fill="#00ff9c"/>
<rect x="477.78" y="235.09" width="4.87" height="4.84" fill="#00bbff"/>
<rect x="333.2" y="239.88" width="4.87" height="4.84" fill="#00fffc"/>
<rect x="338.02" y="239.88" width="4.87" height="4.84" fill="#00ff38"/>
<rect x="342.84" y="239.88" width="4.87" height="4.84" fill="#00ff9c"/>
<rect x="347.66" y="239.88" width="14.51" height="4.84" fill="#00ffcc"/>
<rect x="362.12" y="239.88" width="4.87" height="4.84" fill="#00ff9c"/>
<rect x="366.94" y="239.88" width="4.87" height="4.84" fill="#00ff38"/>
<rect x="371.75" y="239.88" width="4.87" height="4.84" fill="#00ff9c"/>
<rect x="376.57" y="239.88" width="4.87" height="4.84" fill="#00ffcc"/>
<rect x="381.39" y="239.88" width="4.87" height="4.84" fill="#00ff9c"/>
<rect x="386.21" y="239.88" width="4.87" height="4.84" fill="#00ff38"/>
<rect x="391.03" y="239.88" width="9.69" height="4.84" fill="#00ffcc"/>
<rect x="400.67" y="239.88" width="14.51" height="4.84" fill="#00ff9c"/>
<rect x="415.13" y="239.88" width="4.87" height="4.84" fill="#00fffc"/>
<rect x="419.95" y="239.88" width="4.87" height="4.84" fill="#00ff9c"/>
<rect x="424.77" y="239.88" width="4.87" height="4.84" fill="#00ffcc"/>
<rect x="429.59" y="239.88" width="4.87" height="4.84" fill="#00fffc"/>
<rect x="434.41" y="239.88" width="4.87" height="4.84" fill="#00ffcc"/>
<rect x="439.23" y="239.88" width="4.87" height="4.84" fill="#00ff9c"/>
<rect x="444.05" y="239.88" width="4.87" height="4.84" fill="#00ffcc"/>
<rect x="448.86" y="239.88" width="4.87" height="4.84" fill="#00bbff"/>
<rect x="453.68" y="239.88" width="4.87" height="4.84" fill="#00fffc"/>
<rect x="458.5" y="239.88" width="14.51" height="4.84" fill="#00ffcc"/>
<rect x="472.96" y="239.88" width="4.87" height="4.84" fill="#00ff9c"/>
<rect x="477.78" y="239.88" width="4.87" height="4.84" fill="#00ffcc"/>
<rect x="333.2" y="244.67" width="4.87" height="4.84" fill="#00ff9c"/>
<rect x="338.02" y="244.67" width="4.87" height="4.84" fill="#69ff00"/>
<rect x="342.84" y="244.67" width="4.87" height="4.84" fill="#00ff38"/>
<rect x="347.66" y="244.67" width="14.51" height="4.84" fill="#00ffcc"/>
<rect x="362.12" y="244.67" width="4.87" height="4.84" fill="#00fffc"/>
<rect x="366.94" y="244.67" width="9.69" height="4.84" fill="#00ff9c"/>
<rect x="376.57" y="244.67" width="4.87" height="4.84" fill="#00fffc"/>
<rect x="381.39" y="244.67" width="4.87" height="4.84" fill="#00ff9c"/>
<rect x="386.21" y="244.67" width="14.51" height="4.84" fill="#00ffcc"/>
<rect x="400.67" y="244.67" width="9.69" height="4.84" fill="#00ff38"/>
<rect x="410.31" y="244.67" width="4.87" height="4.84" fill="#00ffcc"/>
<rect x="415.13" y="244.67" width="9.69" height="4.84" fill="#00bbff"/>
<rect x="424.77" y="244.67" width="4.87" height="4.84" fill="#00ffcc"/>
<rect x="429.59" y="244.67" width="4.87" height="4.84" fill="#00ff38"/>
<rect x="434.41" y="244.67" width="4.87" height="4.84" fill="#00fffc"/>
<rect x="439.23" y="244.67" width="4.87" height="4.84" fill="#00ff9c"/>
<rect x="444.05" y="244.67" width="4.87" height="4.84" fill="#00ff38"/>
<rect x="448.86" y="244.67" width="9.69" height="4.84" fill="#00ffcc"/>
<rect x="458.5" y="244.67" width="4.87" height="4.84" fill="#00fffc"/>
<rect x="463.32" y="244.67" width="4.87" height="4.84" fill="#00bbff"/>
<rect x="468.14" y="244.67" width="4.87" height="4.84" fill="#00fffc"/>
<rect x="472.96" y="244.67" width="4.87" height="4.84" fill="#00ff9c"/>
<rect x="477.78" y="244.67" width="4.87" height="4.84" fill="#00ffcc"/>
<rect x="333.2" y="249.45" width="14.51" height="4.84" fill="#00ff38"/>
<rect x="347.66" y="249.45" width="19.33" height="4.84" fill="#00fffc"/>
<rect x="366.94" y="249.45" width="4.87" height="4.84" fill="#008bff"/>
<rect x="371.75" y="249.45" width="4.87" height="4.84" fill="#00ffcc"/>
<rect x="376.57" y="249.45" width="4.87" height="4.84" fill="#00ff9c"/>
<rect x="381.39" y="249.45" width="14.51" height="4.84" fill="#00ffcc"/>
<rect x="395.85" y="249.45" width="4.87" height="4.84" fill="#00fffc"/>
<rect x="400.67" y="249.45" width="9.69" height="4.84" fill="#00ffcc"/>
<rect x="410.31" y="249.45" width="4.87" height="4.84" fill="#00bbff"/>
<rect x="415.13" y="249.45" width="14.51" height="4.84" fill="#00fffc"/>
<rect x="429.59" y="249.45" width="9.69" height="4.84" fill="#00ffcc"/>
<rect x="439.23" y="249.45" width="9.69" height="4.84" fill="#00fffc"/>
<rect x="448.86" y="249.45" width="4.87" height="4.84" fill="#00ffcc"/>
<rect x="453.68" y="249.45" width="4.87" height="4.84" fill="#00bbff"/>
<rect x="458.5" y="249.45" width="9.69" height="4.84" fill="#00fffc"/>
<rect x="468.14" y="249.45" width="4.87" height="4.84" fill="#00ffcc"/>
<rect x="472.96" y="249.45" width="4.87" height="4.84" fill="#00bbff"/>
<rect x="477.78" y="249.45" width="4.87" height="4.84" fill="#00fffc"/>
<rect x="333.2" y="254.24" width="4.87" height="4.84" fill="#00fffc"/>
<rect x="338.02" y="254.24" width="4.87" height="4.84" fill="#00ff9c"/>
<rect x="342.84" y="254.24" width="4.87" height="4.84" fill="#00ffcc"/>
<rect x="347.66" y="254.24" width="4.87" height="4.84" fill="#008bff"/>
<rect x="352.48" y="254.24" width="4.87" height="4.84" fill="#00ffcc"/>
<rect x="357.3" y="254.24" width="4.87" height="4.84" fill="#00ff9c"/>
<rect x="362.12" y="254.24" width="9.69" height="4.84" fill="#00ffcc"/>
<rect x="371.75" y="254.24" width="19.33" height="4.84" fill="#00ff9c"/>
<rect x="391.03" y="254.24" width="4.87" height="4.84" fill="#00ff38"/>
<rect x="395.85" y="254.24" width="4.87" height="4.84" fill="#00ff9c"/>
<rect x="400.67" y="254.24" width="4.87" height="4.84" fill="#00ffcc"/>
<rect x="405.49" y="254.24" width="4.87" height="4.84" fill="#00ff9c"/>
<rect x="410.31" y="254.24" width="4.87" height="4.84" fill="#00fffc"/>
<rect x="415.13" y="254.24" width="9.69" height="4.84" fill="#00ffcc"/>
<rect x="424.77" y="254.24" width="9.69" height="4.84" fill="#00ff38"/>
<rect x="434.41" y="254.24" width="4.87" height="4.84" fill="#00bbff"/>
<rect x="439.23" y="254.24" width="4.87" height="4.84" fill="#00ff38"/>
<rect x="444.05" y="254.24" width="4.87" height="4.84" fill="#00ff9c"/>
<rect x="448.86" y="254.24" width="4.87" height="4.84" fill="#00fffc"/>
<rect x="453.68" y="254.24" width="19.33" height="4.84" fill="#00ffcc"/>
<rect x="472.96" y="254.24" width="9.69" height="4.84" fill="#00ff9c"/>
<rect x="333.2" y="259.03" width="9.69" height="4.84" fill="#00ff9c"/>
<rect x="342.84" y="259.03" width="9.69" height="4.84" fill="#00fffc"/>
<rect x="352.48" y="259.03" width="4.87" height="4.84" fill="#00ffcc"/>
<rect x="357.3" y="259.03" width="14.51" height="4.84" fill="#00ff9c"/>
<rect x="371.75" y="259.03" width="9.69" height="4.84" fill="#00fffc"/>
<rect x="381.39" y="259.03" width="9.69" height="4.84" fill="#00ff9c"/>
<rect x="391.03" y="259.03" width="9.69" height="4.84" fill="#00fffc"/>
<rect x="400.67" y="259.03" width="4.87" height="4.84" fill="#00ff9c"/>
<rect x="405.49" y="259.03" width="4.87" height="4.84" fill="#00fffc"/>
<rect x="410.31" y="259.03" width="4.87" height="4.84" fill="#00ff9c"/>
<rect x="415.13" y="259.03" width="9.69" height="4.84" fill="#00ffcc"/>
<rect x="424.77" y="259.03" width="9.69" height="4.84" fill="#00ff9c"/>
<rect x="434.41" y="259.03" width="4.87" height="4.84" fill="#00ffcc"/>
<rect x="439.23" y="259.03" width="9.69" height="4.84" fill="#00ff9c"/>
<rect x="448.86" y="259.03" width="4.87" height="4.84" fill="#00fffc"/>
<rect x="453.68" y="259.03" width="4.87" height="4.84" fill="#00bbff"/>
<rect x="458.5" y="259.03" width="4.87" height="4.84" fill="#00fffc"/>
<rect x="463.32" y="259.03" width="4.87" height="4.84" fill="#00ffcc"/>
<rect x="468.14" y="259.03" width="4.87" height="4.84" fill="#00ff9c"/>
<rect x="472.96" y="259.03" width="9.69" height="4.84" fill="#00ff38"/>
<rect x="333.2" y="263.82" width="9.69" height="4.84" fill="#00ff9c"/>
<rect x="342.84" y="263.82" width="4.87" height="4.84" fill="#00ffcc"/>
<rect x="347.66" y="263.82" width="4.87" height="4.84" fill="#00fffc"/>
<rect x="352.48" y="263.82" width="9.69" height="4.84" fill="#00ffcc"/>
<rect x="362.12" y="263.82" width="4.87" height="4.84" fill="#00fffc"/>
<rect x="366.94" y="263.82" width="4.87" height="4.84" fill="#00ffcc"/>
<rect x="371.75" y="263.82" width="14.51" height="4.84" fill="#00ff9c"/>
<rect x="386.21" y="263.82" width="4.87" height="4.84" fill="#00ff38"/>
<rect x="391.03" y="263.82" width="4.87" height="4.84" fill="#00ff9c"/>
<rect x="395.85" y="263.82" width="4.87" height="4.84" fill="#00ffcc"/>
<rect x="400.67" y="263.82" width="14.51" height="4.84" fill="#00ff9c"/>
<rect x="415.13" y="263.82" width="9.69" height="4.84" fill="#00fffc"/>
<rect x="424.77" y="263.82" width="9.69" height="4.84" fill="#00ff9c"/>
<rect x="434.41" y="263.82" width="4.87" height="4.84" fill="#00fffc"/>
<rect x="439.23" y="263.82" width="4.87" height="4.84" fill="#00ffcc"/>
<rect x="444.05" y="263.82" width="4.87" height="4.84" fill="#00ff9c"/>
<rect x="448.86" y="263.82" width="4.87" height="4.84" fill="#00fffc"/>
<rect x="453.68" y="263.82" width="4.87" height="4.84" fill="#00bbff"/>
<rect x="458.5" y="263.82" width="4.87" height="4.84" fill="#00ffcc"/>
<rect x="463.32" y="263.82" width="4.87" height="4.84" fill="#00fffc"/>
<rect x="468.14" y="263.82" width="4.87" height="4.84" fill="#00ffcc"/>
<rect x="472.96" y="263.82" width="9.69" height="4.84" fill="#00ff38"/>
<rect x="333.2" y="268.6" width="9.69" height="4.84" fill="#00ff38"/>
<rect x="342.84" y="268.6" width="9.69" height="4.84" fill="#00ffcc"/>
<rect x="352.48" y="268.6" width="4.87" height="4.84" fill="#00ff9c"/>
<rect x="357.3" y="268.6" width="4.87" height="4.84" fill="#00fffc"/>
<rect x="362.12" y="268.6" width="4.87" height="4.84" fill="#00ff9c"/>
<rect x="366.94" y="268.6" width="4.87" height="4.84" fill="#00ff38"/>
<rect x="371.75" y="268.6" width="14.51" height="4.84" fill="#00ff9c"/>
<rect x="386.21" y="268.6" width="4.87" height="4.84" fill="#00ff38"/>
<rect x="391.03" y="268.6" width="4.87" height="4.84" fill="#00ff9c"/>
<rect x="395.85" y="268.6" width="4.87" height="4.84" fill="#00ff38"/>
<rect x="400.67" y="268.6" width="4.87" height="4.84" fill="#00ff9c"/>
<rect x="405.49" y="268.6" width="4.87" height="4.84" fill="#00ff38"/>
<rect x="410.31" y="268.6" width="4.87" height="4.84" fill="#00ff9c"/>
<rect x="415.13" y="268.6" width="9.69" height="4.84" fill="#00ffcc"/>
<rect x="424.77" y="268.6" width="9.69" height="4.84" fill="#00ff38"/>
<rect x="434.41" y="268.6" width="9.69" height="4.84" fill="#00ff9c"/>
<rect x="444.05" y="268.6" width="4.87" height="4.84" fill="#00ff38"/>
<rect x="448.86" y="268.6" width="4.87" height="4.84" fill="#00ffcc"/>
<rect x="453.68" y="268.6" width="4.87" height="4.84" fill="#00fffc"/>
<rect x="458.5" y="268.6" width="4.87" height="4.84" fill="#00ff9c"/>
<rect x="463.32" y="268.6" width="4.87" height="4.84" fill="#00ffcc"/>
<rect x="468.14" y="268.6" width="4.87" height="4.84" fill="#00ff9c"/>
<rect x="472.96" y="268.6" width="4.87" height="4.84" fill="#00ff38"/>
<rect x="477.78" y="268.6" width="4.87" height="4.84" fill="#00ff9c"/>
<rect x="333.2" y="273.39" width="4.87" height="4.84" fill="#00ffcc"/>
<rect x="338.02" y="273.39" width="4.87" height="4.84" fill="#00fffc"/>
<rect x="342.84" y="273.39" width="9.69" height="4.84" fill="#00ff9c"/>
<rect x="352.48" y="273.39" width="4.87" height="4.84" fill="#00ffcc"/>
<rect x="357.3" y="273.39" width="4.87" height="4.84" fill="#00ff9c"/>
<rect x="362.12" y="273.39" width="4.87" height="4.84" fill="#00fffc"/>
<rect x="366.94" y="273.39" width="4.87" height="4.84" fill="#00ff9c"/>
<rect x="371.75" y="273.39" width="14.51" height="4.84" fill="#00ffcc"/>
<rect x="386.21" y="273.39" width="9.69" height="4.84" fill="#00ff9c"/>
<rect x="395.85" y="273.39" width="4.87" height="4.84" fill="#00ffcc"/>
<rect x="400.67" y="273.39" width="14.51" height="4.84" fill="#00ff9c"/>
<rect x="415.13" y="273.39" width="4.87" height="4.84" fill="#00ffcc"/>
<rect x="419.95" y="273.39" width="4.87" height="4.84" fill="#00ff9c"/>
<rect x="424.77" y="273.39" width="4.87" height="4.84" fill="#00ff38"/>
<rect x="429.59" y="273.39" width="9.69" height="4.84" fill="#00ffcc"/>
<rect x="439.23" y="273.39" width="9.69" height="4.84" fill="#00ff9c"/>
<rect x="448.86" y="273.39" width="4.87" height="4.84" fill="#00fffc"/>
<rect x="453.68" y="273.39" width="4.87" height="4.84" fill="#00ffcc"/>
<rect x="458.5" y="273.39" width="24.15" height="4.84" fill="#00ff9c"/>
<rect x="333.2" y="278.18" width="4.87" height="4.84" fill="#008bff"/>
<rect x="338.02" y="278.18" width="4.87" height="4.84" fill="#00fffc"/>
<rect x="342.84" y="278.18" width="4.87" height="4.84" fill="#00ff9c"/>
<rect x="347.66" y="278.18" width="4.87" height="4.84" fill="#00ffcc"/>
<rect x="352.48" y="278.18" width="19.33" height="4.84" fill="#00ff9c"/>
<rect x="371.75" y="278.18" width="14.51" height="4.84" fill="#00ff38"/>
<rect x="386.21" y="278.18" width="24.15" height="4.84" fill="#00ff9c"/>
<rect x="410.31" y="278.18" width="9.69" height="4.84" fill="#00ffcc"/>
<rect x="419.95" y="278.18" width="9.69" height="4.84" fill="#00ff9c"/>
<rect x="429.59" y="278.18" width="4.87" height="4.84" fill="#00ffcc"/>
<rect x="434.41" y="278.18" width="4.87" height="4.84" fill="#00fffc"/>
<rect x="439.23" y="278.18" width="4.87" height="4.84" fill="#00ffcc"/>
<rect x="444.05" y="278.18" width="4.87" height="4.84" fill="#00ff9c"/>
<rect x="448.86" y="278.18" width="4.87" height="4.84" fill="#00ffcc"/>
<rect x="453.68" y="278.18" width="19.33" height="4.84" fill="#00ff9c"/>
<rect x="472.96" y="278.18" width="4.87" height="4.84" fill="#00fffc"/>
<rect x="477.78" y="278.18" width="4.87" height="4.84" fill="#00ff9c"/>
<rect x="333.2" y="282.96" width="28.97" height="4.84" fill="#00ff9c"/>
<rect x="362.12" y="282.96" width="4.87" height="4.84" fill="#00ff38"/>
<rect x="366.94" y="282.96" width="4.87" height="4.84" fill="#ff0000"/>
<rect x="371.75" y="282.96" width="4.87" height="4.84" fill="#ff7700"/>
<rect x="376.57" y="282.96" width="4.87" height="4.84" fill="#ff0000"/>
<rect x="381.39" y="282.96" width="4.87" height="4.84" fill="#ffee00"/>
<rect x="386.21" y="282.96" width="4.87" height="4.84" fill="#ffa700"/>
<rect x="391.03" y="282.96" width="4.87" height="4.84" fill="#69ff00"/>
<rect x="395.85" y="282.96" width="4.87" height="4.84" fill="#22ff00"/>
<rect x="400.67" y="282.96" width="4.87" height="4.84" fill="#00ff9c"/>
<rect x="405.49" y="282.96" width="4.87" height="4.84" fill="#69ff00"/>
<rect x="410.31" y="282.96" width="4.87" height="4.84" fill="#00ff9c"/>
<rect x="415.13" y="282.96" width="4.87" height="4.84" fill="#00ffcc"/>
<rect x="419.95" y="282.96" width="4.87" height="4.84" fill="#00ff9c"/>
<rect x="424.77" y="282.96" width="14.51" height="4.84" fill="#00ffcc"/>
<rect x="439.23" y="282.96" width="9.69" height="4.84" fill="#00fffc"/>
<rect x="448.86" y="282.96" width="4.87" height="4.84" fill="#00ffcc"/>
<rect x="453.68" y="282.96" width="4.87" height="4.84" fill="#00ff38"/>
<rect x="458.5" y="282.96" width="4.87" height="4.84" fill="#00ff9c"/>
<rect x="463.32" y="282.96" width="4.87" height="4.84" fill="#00ffcc"/>
<rect x="468.14" y="282.96" width="14.51" height="4.84" fill="#00ff9c"/>
<rect x="333.2" y="287.75" width="4.87" height="4.84" fill="#00ffcc"/>
<rect x="338.02" y="287.75" width="4.87" height="4.84" fill="#00ff38"/>
<rect x="342.84" y="287.75" width="4.87" height="4.84" fill="#00ff9c"/>
<rect x="347.66" y="287.75" width="4.87" height="4.84" fill="#00ffcc"/>
<rect x="352.48" y="287.75" width="4.87" height="4.84" fill="#00ff9c"/>
<rect x="357.3" y="287.75" width="4.87" height="4.84" fill="#00ffcc"/>
<rect x="362.12" y="287.75" width="4.87" height="4.84" fill="#00ff9c"/>
<rect x="366.94" y="287.75" width="14.51" height="4.84" fill="#00ff38"/>
<rect x="381.39" y="287.75" width="4.87" height="4.84" fill="#22ff00"/>
<rect x="386.21" y="287.75" width="4.87" height="4.84" fill="#00ff38"/>
<rect x="391.03" y="287.75" width="9.69" height="4.84" fill="#00ff9c"/>
<rect x="400.67" y="287.75" width="4.87" height="4.84" fill="#00ffcc"/>
<rect x="405.49" y="287.75" width="4.87" height="4.84" fill="#00ff9c"/>
<rect x="410.31" y="287.75" width="9.69" height="4.84" fill="#00ffcc"/>
<rect x="419.95" y="287.75" width="9.69" height="4.84" fill="#00ff9c"/>
<rect x="429.59" y="287.75" width="4.87" height="4.84" fill="#00ffcc"/>
<rect x="434.41" y="287.75" width="4.87" height="4.84" fill="#00fffc"/>
<rect x="439.23" y="287.75" width="4.87" height="4.84" fill="#00ffcc"/>
<rect x="444.05" y="287.75" width="28.97" height="4.84" fill="#00ff9c"/>
<rect x="472.96" y="287.75" width="4.87" height="4.84" fill="#00ffcc"/>
<rect x="477.78" y="287.75" width="4.87" height="4.84" fill="#00ff9c"/>
<rect x="333.2" y="292.54" width="9.69" height="4.84" fill="#00ffcc"/>
<rect x="342.84" y="292.54" width="19.33" height="4.84" fill="#00ff9c"/>
<rect x="362.12" y="292.54" width="4.87" height="4.84" fill="#00fffc"/>
<rect x="366.94" y="292.54" width="4.87" height="4.84" fill="#00ff9c"/>
<rect x="371.75" y="292.54" width="4.87" height="4.84" fill="#00ff38"/>
<rect x="376.57" y="292.54" width="19.33" height="4.84" fill="#00ff9c"/>
<rect x="395.85" y="292.54" width="4.87" height="4.84" fill="#00fffc"/>
<rect x="400.67" y="292.54" width="9.69" height="4.84" fill="#00ff9c"/>
<rect x="410.31" y="292.54" width="4.87" height="4.84" fill="#00ffcc"/>
<rect x="415.13" y="292.54" width="9.69" height="4.84" fill="#00ff38"/>
<rect x="424.77" y="292.54" width="9.69" height="4.84" fill="#00ff9c"/>
<rect x="434.41" y="292.54" width="4.87" height="4.84" fill="#00ffcc"/>
<rect x="439.23" y="292.54" width="4.87" height="4.84" fill="#00ff9c"/>
<rect x="444.05" y="292.54" width="4.87" height="4.84" fill="#00fffc"/>
<rect x="448.86" y="292.54" width="9.69" height="4.84" fill="#00ffcc"/>
<rect x="458.5" y="292.54" width="4.87" height="4.84" fill="#00fffc"/>
<rect x="463.32" y="292.54" width="9.69" height="4.84" fill="#00ffcc"/>
<rect x="472.96" y="292.54" width="4.87" height="4.84" fill="#00ff38"/>
<rect x="477.78" y="292.54" width="4.87" height="4.84" fill="#99ff00"/>
<rect x="333.2" y="297.33" width="4.87" height="4.84" fill="#00ff38"/>
<rect x="338.02" y="297.33" width="28.97" height="4.84" fill="#00ff9c"/>
<rect x="366.94" y="297.33" width="4.87" height="4.84" fill="#00ffcc"/>
<rect x="371.75" y="297.33" width="9.69" height="4.84" fill="#00ff9c"/>
<rect x="381.39" y="297.33" width="4.87" height="4.84" fill="#00ffcc"/>
<rect x="386.21" y="297.33" width="24.15" height="4.84" fill="#00ff9c"/>
<rect x="410.31" y="297.33" width="4.87" height="4.84" fill="#00ffcc"/>
<rect x="415.13" y="297.33" width="14.51" height="4.84" fill="#00ff9c"/>
<rect x="429.59" y="297.33" width="4.87" height="4.84" fill="#00ffcc"/>
<rect x="434.41" y="297.33" width="4.87" height="4.84" fill="#00fffc"/>
<rect x="439.23" y="297.33" width="9.69" height="4.84" fill="#00ffcc"/>
<rect x="448.86" y="297.33" width="9.69" height="4.84" fill="#00ff9c"/>
<rect x="458.5" y="297.33" width="9.69" height="4.84" fill="#00ffcc"/>
<rect x="468.14" y="297.33" width="9.69" height="4.84" fill="#00ff9c"/>
<rect x="477.78" y="297.33" width="4.87" height="4.84" fill="#00fffc"/>
<rect x="333.2" y="302.11" width="4.87" height="4.84" fill="#ffee00"/>
<rect x="338.02" y="302.11" width="9.69" height="4.84" fill="#00ff38"/>
<rect x="347.66" y="302.11" width="9.69" height="4.84" fill="#00ffcc"/>
<rect x="357.3" y="302.11" width="4.87" height="4.84" fill="#00ff9c"/>
<rect x="362.12" y="302.11" width="9.69" height="4.84" fill="#00ffcc"/>
<rect x="371.75" y="302.11" width="9.69" height="4.84" fill="#00ff9c"/>
<rect x="381.39" y="302.11" width="4.87" height="4.84" fill="#00ffcc"/>
<rect x="386.21" y="302.11" width="19.33" height="4.84" fill="#00ff38"/>
<rect x="405.49" y="302.11" width="9.69" height="4.84" fill="#00ffcc"/>
<rect x="415.13" y="302.11" width="4.87" height="4.84" fill="#00fffc"/>
<rect x="419.95" y="302.11" width="4.87" height="4.84" fill="#00bbff"/>
<rect x="424.77" y="302.11" width="4.87" height="4.84" fill="#00ffcc"/>
<rect x="429.59" y="302.11" width="4.87" height="4.84" fill="#00fffc"/>
<rect x="434.41" y="302.11" width="9.69" height="4.84" fill="#00ff9c"/>
<rect x="444.05" y="302.11" width="4.87" height="4.84" fill="#00fffc"/>
<rect x="448.86" y="302.11" width="9.69" height="4.84" fill="#00ffcc"/>
<rect x="458.5" y="302.11" width="4.87" height="4.84" fill="#00ff38"/>
<rect x="463.32" y="302.11" width="9.69" height="4.84" fill="#00fffc"/>
<rect x="472.96" y="302.11" width="4.87" height="4.84" fill="#e0ff00"/>
<rect x="477.78" y="302.11" width="4.87" height="4.84" fill="#ff0000"/>
</g>
<path d="M338.02 158.5V306.9M333.2 163.29H482.6M342.84 158.5V306.9M333.2 168.07H482.6M347.66 158.5V306.9M333.2 172.86H482.6M352.48 158.5V306.9M333.2 177.65H482.6M357.3 158.5V306.9M333.2 182.44H482.6M362.12 158.5V306.9M333.2 187.22H482.6M366.94 158.5V306.9M333.2 192.01H482.6M371.75 158.5V306.9M333.2 196.8H482.6M376.57 158.5V306.9M333.2 201.58H482.6M381.39 158.5V306.9M333.2 206.37H482.6M386.21 158.5V306.9M333.2 211.16H482.6M391.03 158.5V306.9M333.2 215.95H482.6M395.85 158.5V306.9M333.2 220.73H482.6M400.67 158.5V306.9M333.2 225.52H482.6M405.49 158.5V306.9M333.2 230.31H482.6M410.31 158.5V306.9M333.2 235.09H482.6M415.13 158.5V306.9M333.2 239.88H482.6M419.95 158.5V306.9M333.2 244.67H482.6M424.77 158.5V306.9M333.2 249.45H482.6M429.59 158.5V306.9M333.2 254.24H482.6M434.41 158.5V306.9M333.2 259.03H482.6M439.23 158.5V306.9M333.2 263.82H482.6M444.05 158.5V306.9M333.2 268.6H482.6M448.86 158.5V306.9M333.2 273.39H482.6M453.68 158.5V306.9M333.2 278.18H482.6M458.5 158.5V306.9M333.2 282.96H482.6M463.32 158.5V306.9M333.2 287.75H482.6M468.14 158.5V306.9M333.2 292.54H482.6M472.96 158.5V306.9M333.2 297.33H482.6M477.78 158.5V306.9M333.2 302.11H482.6" stroke="#007830" stroke-opacity="0.2" stroke-width="0.5" fill="none"/>
</g>
<g shape-rendering="crispEdges">
<rect x="483.6" y="299.29" width="8.7" height="7.46" fill="#6300ff"/>
<rect x="483.6" y="291.88" width="8.7" height="7.46" fill="#3300ff"/>
<rect x="483.6" y="284.47" width="8.7" height="7.46" fill="#0014ff"/>
<rect x="483.6" y="277.06" width="8.7" height="7.46" fill="#0044ff"/>
<rect x="483.6" y="269.65" width="8.7" height="7.46" fill="#008bff"/>
<rect x="483.6" y="262.24" width="8.7" height="7.46" fill="#00bbff"/>
<rect x="483.6" y="254.83" width="8.7" height="7.46" fill="#00fffc"/>
<rect x="483.6" y="247.42" width="8.7" height="7.46" fill="#00ffcc"/>
<rect x="483.6" y="240.01" width="8.7" height="7.46" fill="#00ff85"/>
<rect x="483.6" y="232.6" width="8.7" height="7.46" fill="#00ff55"/>
<rect x="483.6" y="225.19" width="8.7" height="7.46" fill="#00ff0e"/>
<rect x="483.6" y="217.78" width="8.7" height="7.46" fill="#22ff00"/>
<rect x="483.6" y="210.37" width="8.7" height="7.46" fill="#69ff00"/>
<rect x="483.6" y="202.96" width="8.7" height="7.46" fill="#99ff00"/>
<rect x="483.6" y="195.55" width="8.7" height="7.46" fill="#e0ff00"/>
<rect x="483.6" y="188.14" width="8.7" height="7.46" fill="#ffee00"/>
<rect x="483.6" y="180.73" width="8.7" height="7.46" fill="#ffa700"/>
<rect x="483.6" y="173.32" width="8.7" height="7.46" fill="#ff7700"/>
<rect x="483.6" y="165.91" width="8.7" height="7.46" fill="#ff3000"/>
<rect x="483.6" y="158.5" width="8.7" height="7.46" fill="#ff0000"/>
</g>
<g class="cb">
<text transform="translate(262.4 302.8) scale(0.9 1)">12</text>
<text transform="translate(262.4 287.07) scale(0.9 1)">14</text>
<text transform="translate(262.4 271.33) scale(0.9 1)">16</text>
<text transform="translate(262.4 255.6) scale(0.9 1)">18</text>
<text transform="translate(262.4 239.86) scale(0.9 1)">20</text>
<text transform="translate(262.4 224.13) scale(0.9 1)">22</text>
<text transform="translate(262.4 208.4) scale(0.9 1)">24</text>
<text transform="translate(262.4 192.66) scale(0.9 1)">26</text>
<text transform="translate(262.4 176.93) scale(0.9 1)">28</text>
<text transform="translate(262.4 161.19) scale(0.9 1)">30</text>
<text transform="translate(493.7 307) scale(0.9 1)">12</text>
<text transform="translate(493.7 290.94) scale(0.9 1)">14</text>
<text transform="translate(493.7 274.88) scale(0.9 1)">16</text>
<text transform="translate(493.7 258.82) scale(0.9 1)">18</text>
<text transform="translate(493.7 242.76) scale(0.9 1)">20</text>
<text transform="translate(493.7 226.7) scale(0.9 1)">22</text>
<text transform="translate(493.7 210.64) scale(0.9 1)">24</text>
<text transform="translate(493.7 194.58) scale(0.9 1)">26</text>
<text transform="translate(493.7 178.52) scale(0.9 1)">28</text>
<text transform="translate(493.7 162.46) scale(0.9 1)">30</text>
</g>
<path d="M259 298.8h2.4M489.7 303h2.6M259 283.07h2.4M489.7 286.94h2.6M259 267.33h2.4M489.7 270.88h2.6M259 251.6h2.4M489.7 254.82h2.6M259 235.86h2.4M489.7 238.76h2.6M259 220.13h2.4M489.7 222.7h2.6M259 204.4h2.4M489.7 206.64h2.6M259 188.66h2.4M489.7 190.58h2.6M259 172.93h2.4M489.7 174.52h2.6" stroke="#222" stroke-opacity="0.55" stroke-width="0.5" fill="none"/>
<text class="er" transform="translate(287.4 305.2) rotate(-90)">Energy resolution (%)</text>
<text class="er" transform="translate(521.0 306.5) rotate(-90)">Energy resolution (%)</text>
<g class="ax">
<text x="89.5" y="166.2" text-anchor="middle">30</text>
<text x="89.5" y="214.1" text-anchor="middle">20</text>
<text x="89.5" y="261.7" text-anchor="middle">10</text>
<text x="89.5" y="309.2" text-anchor="middle">0</text>
<text x="98.3" y="317.8" text-anchor="middle">0</text>
<text x="143.1" y="317.8" text-anchor="middle">10</text>
<text x="192.7" y="317.8" text-anchor="middle">20</text>
<text x="247.3" y="317.8" text-anchor="middle">30</text>
</g>
<g class="ax">
<text x="324.3" y="167.2" text-anchor="middle">30</text>
<text x="324.3" y="214.8" text-anchor="middle">20</text>
<text x="324.3" y="263.1" text-anchor="middle">10</text>
<text x="324.3" y="310.2" text-anchor="middle">0</text>
<text x="333.4" y="317.5" text-anchor="middle">0</text>
<text x="380.4" y="317.5" text-anchor="middle">10</text>
<text x="428.7" y="317.5" text-anchor="middle">20</text>
<text x="475.7" y="317.5" text-anchor="middle">30</text>
</g>
<text class="ttl" x="179.2" y="150.1" text-anchor="middle">(e)</text>
<text class="ttl" x="407.6" y="150.3" text-anchor="middle">(f)</text>
</svg>
</body>
</html>
